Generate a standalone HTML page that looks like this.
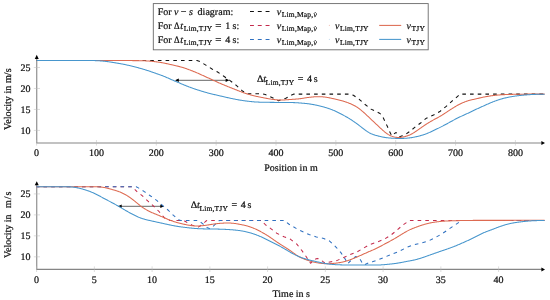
<!DOCTYPE html>
<html><head><meta charset="utf-8"><style>
html,body{margin:0;padding:0;background:#fff;width:550px;height:300px;overflow:hidden}
svg{display:block}
text{fill:#111;stroke:#111;stroke-width:0.22px;text-rendering:geometricPrecision}
</style></head><body>
<svg width="550" height="300" viewBox="0 0 550 300" font-family="'Liberation Serif', 'Times New Roman', serif" font-size="10">
<rect width="550" height="300" fill="#fff"/>
<line x1="36.75" y1="143.0" x2="36.75" y2="58" stroke="#858585" stroke-width="1.1"/>
<path d="M36.75,54.8 L34.75,58.9 L38.75,58.9 Z" fill="#000"/>
<line x1="36.2" y1="143.0" x2="542" y2="143.0" stroke="#858585" stroke-width="1.1"/>
<path d="M545.0,143.0 L541.4,141.0 L541.4,145.0 Z" fill="#000"/>
<line x1="33.8" y1="67.5" x2="40" y2="67.5" stroke="#bbb" stroke-width="0.5"/>
<text x="30.4" y="70.90" text-anchor="end">25</text>
<line x1="33.8" y1="88.47" x2="40" y2="88.47" stroke="#bbb" stroke-width="0.5"/>
<text x="30.4" y="91.87" text-anchor="end">20</text>
<line x1="33.8" y1="109.43" x2="40" y2="109.43" stroke="#bbb" stroke-width="0.5"/>
<text x="30.4" y="112.83" text-anchor="end">15</text>
<line x1="33.8" y1="130.4" x2="40" y2="130.4" stroke="#bbb" stroke-width="0.5"/>
<text x="30.4" y="133.80" text-anchor="end">10</text>
<line x1="36.60" y1="140.0" x2="36.60" y2="145.6" stroke="#bbb" stroke-width="0.5"/>
<text x="36.60" y="156.10" text-anchor="middle">0</text>
<line x1="96.45" y1="140.0" x2="96.45" y2="145.6" stroke="#bbb" stroke-width="0.5"/>
<text x="96.45" y="156.10" text-anchor="middle">100</text>
<line x1="156.30" y1="140.0" x2="156.30" y2="145.6" stroke="#bbb" stroke-width="0.5"/>
<text x="156.30" y="156.10" text-anchor="middle">200</text>
<line x1="216.15" y1="140.0" x2="216.15" y2="145.6" stroke="#bbb" stroke-width="0.5"/>
<text x="216.15" y="156.10" text-anchor="middle">300</text>
<line x1="276.00" y1="140.0" x2="276.00" y2="145.6" stroke="#bbb" stroke-width="0.5"/>
<text x="276.00" y="156.10" text-anchor="middle">400</text>
<line x1="335.85" y1="140.0" x2="335.85" y2="145.6" stroke="#bbb" stroke-width="0.5"/>
<text x="335.85" y="156.10" text-anchor="middle">500</text>
<line x1="395.70" y1="140.0" x2="395.70" y2="145.6" stroke="#bbb" stroke-width="0.5"/>
<text x="395.70" y="156.10" text-anchor="middle">600</text>
<line x1="455.55" y1="140.0" x2="455.55" y2="145.6" stroke="#bbb" stroke-width="0.5"/>
<text x="455.55" y="156.10" text-anchor="middle">700</text>
<line x1="515.40" y1="140.0" x2="515.40" y2="145.6" stroke="#bbb" stroke-width="0.5"/>
<text x="515.40" y="156.10" text-anchor="middle">800</text>
<line x1="177" y1="80.3" x2="227" y2="80.3" stroke="#555" stroke-width="0.9"/>
<path d="M175.0,80.3 L178.8,78.5 L178.8,82.1 Z" fill="#000"/>
<path d="M229.4,80.3 L225.6,78.5 L225.6,82.1 Z" fill="#000"/>
<path d="M36.60,60.50 L197.00,60.50 L200.00,61.50 L205.80,65.10 L212.40,69.20 L217.20,71.80 L223.80,76.20 L229.70,80.30 L236.30,85.40 L242.90,91.30 L246.00,93.20 L247.50,93.80 L262.00,93.80 L265.30,94.60 L271.90,97.50 L278.50,100.80 L285.80,98.30 L291.70,95.00 L294.00,94.10 L349.70,94.10 L353.40,95.30 L359.20,99.30 L365.10,104.50 L371.10,109.10 L377.00,112.00 L380.00,113.50 L383.00,117.30 L385.80,123.30 L387.30,126.20 L389.10,130.60 L390.60,133.60 L392.00,135.80 L393.50,134.20 L396.10,132.50 L397.90,134.30 L399.60,136.70 L402.30,135.80 L404.50,135.10 L408.20,132.50 L410.00,131.30 L414.70,127.40 L420.60,123.00 L426.40,118.20 L433.50,115.00 L440.30,111.20 L446.20,106.40 L452.00,101.20 L457.90,96.10 L459.60,94.60 L461.60,94.10 L545.00,94.10" fill="none" stroke="#111" stroke-width="1.05" stroke-dasharray="3.6 4.1" stroke-dashoffset="1.9" stroke-linejoin="round"/>
<path d="M36.60,60.50 L37.10,60.50 L37.60,60.50 L38.10,60.50 L38.60,60.50 L39.10,60.50 L39.60,60.50 L40.10,60.50 L40.60,60.50 L41.10,60.50 L41.60,60.51 L42.10,60.51 L42.60,60.51 L43.10,60.51 L43.60,60.51 L44.10,60.51 L44.60,60.51 L45.10,60.51 L45.60,60.51 L46.10,60.51 L46.60,60.51 L47.10,60.51 L47.60,60.51 L48.10,60.51 L48.60,60.51 L49.10,60.51 L49.60,60.51 L50.10,60.51 L50.60,60.51 L51.10,60.51 L51.60,60.52 L52.10,60.52 L52.60,60.52 L53.10,60.52 L53.60,60.52 L54.10,60.52 L54.60,60.52 L55.10,60.52 L55.60,60.52 L56.10,60.52 L56.60,60.52 L57.10,60.52 L57.60,60.52 L58.10,60.52 L58.60,60.52 L59.10,60.52 L59.60,60.52 L60.10,60.52 L60.60,60.52 L61.10,60.52 L61.60,60.53 L62.10,60.53 L62.60,60.53 L63.10,60.53 L63.60,60.53 L64.10,60.53 L64.60,60.53 L65.10,60.53 L65.60,60.53 L66.10,60.53 L66.60,60.53 L67.10,60.53 L67.60,60.53 L68.10,60.53 L68.60,60.53 L69.10,60.53 L69.60,60.53 L70.10,60.53 L70.60,60.53 L71.10,60.54 L71.60,60.54 L72.10,60.54 L72.60,60.54 L73.10,60.54 L73.60,60.54 L74.10,60.54 L74.60,60.54 L75.10,60.54 L75.60,60.54 L76.10,60.54 L76.60,60.54 L77.10,60.54 L77.60,60.54 L78.10,60.54 L78.60,60.54 L79.10,60.54 L79.60,60.54 L80.10,60.54 L80.60,60.54 L81.10,60.55 L81.60,60.55 L82.10,60.55 L82.60,60.55 L83.10,60.55 L83.60,60.55 L84.10,60.55 L84.60,60.55 L85.10,60.55 L85.60,60.55 L86.10,60.55 L86.60,60.55 L87.10,60.55 L87.60,60.55 L88.10,60.55 L88.60,60.55 L89.10,60.55 L89.60,60.55 L90.10,60.55 L90.60,60.55 L91.10,60.56 L91.60,60.56 L92.10,60.56 L92.60,60.56 L93.10,60.56 L93.60,60.56 L94.10,60.56 L94.60,60.56 L95.10,60.56 L95.60,60.56 L96.10,60.56 L96.60,60.56 L97.10,60.56 L97.60,60.56 L98.10,60.56 L98.60,60.56 L99.10,60.56 L99.60,60.56 L100.10,60.56 L100.60,60.57 L101.10,60.57 L101.60,60.57 L102.10,60.57 L102.60,60.57 L103.10,60.57 L103.60,60.57 L104.10,60.57 L104.60,60.57 L105.10,60.57 L105.60,60.57 L106.10,60.57 L106.60,60.57 L107.10,60.57 L107.60,60.57 L108.10,60.57 L108.60,60.57 L109.10,60.57 L109.60,60.57 L110.10,60.57 L110.60,60.58 L111.10,60.58 L111.60,60.58 L112.10,60.58 L112.60,60.58 L113.10,60.58 L113.60,60.58 L114.10,60.58 L114.60,60.58 L115.10,60.58 L115.60,60.58 L116.10,60.58 L116.60,60.58 L117.10,60.58 L117.60,60.58 L118.10,60.58 L118.60,60.58 L119.10,60.58 L119.60,60.58 L120.10,60.58 L120.60,60.59 L121.10,60.59 L121.60,60.59 L122.10,60.59 L122.60,60.59 L123.10,60.59 L123.60,60.59 L124.10,60.59 L124.60,60.59 L125.10,60.59 L125.60,60.59 L126.10,60.59 L126.60,60.59 L127.10,60.59 L127.60,60.59 L128.10,60.59 L128.60,60.59 L129.10,60.59 L129.60,60.59 L130.10,60.59 L130.60,60.59 L131.10,60.59 L131.60,60.59 L132.10,60.60 L132.60,60.60 L133.10,60.60 L133.60,60.60 L134.10,60.60 L134.60,60.60 L135.10,60.61 L135.60,60.61 L136.10,60.61 L136.60,60.62 L137.10,60.62 L137.60,60.63 L138.10,60.63 L138.60,60.64 L139.10,60.65 L139.60,60.66 L140.10,60.67 L140.60,60.68 L141.10,60.69 L141.60,60.70 L142.10,60.72 L142.60,60.74 L143.10,60.75 L143.60,60.77 L144.10,60.79 L144.60,60.82 L145.10,60.84 L145.60,60.87 L146.10,60.89 L146.60,60.92 L147.10,60.95 L147.60,60.98 L148.10,61.01 L148.60,61.05 L149.10,61.09 L149.60,61.13 L150.10,61.17 L150.60,61.21 L151.10,61.26 L151.60,61.30 L152.10,61.35 L152.60,61.40 L153.10,61.46 L153.60,61.51 L154.10,61.57 L154.60,61.63 L155.10,61.69 L155.60,61.75 L156.10,61.81 L156.60,61.87 L157.10,61.94 L157.60,62.01 L158.10,62.08 L158.60,62.16 L159.10,62.23 L159.60,62.31 L160.10,62.39 L160.60,62.47 L161.10,62.55 L161.60,62.64 L162.10,62.72 L162.60,62.81 L163.10,62.90 L163.60,63.00 L164.10,63.10 L164.60,63.19 L165.10,63.30 L165.60,63.40 L166.10,63.51 L166.60,63.62 L167.10,63.73 L167.60,63.84 L168.10,63.95 L168.60,64.06 L169.10,64.18 L169.60,64.29 L170.10,64.40 L170.60,64.52 L171.10,64.63 L171.60,64.75 L172.10,64.86 L172.60,64.97 L173.10,65.08 L173.60,65.20 L174.10,65.31 L174.60,65.42 L175.10,65.54 L175.60,65.65 L176.10,65.77 L176.60,65.89 L177.10,66.01 L177.60,66.13 L178.10,66.25 L178.60,66.37 L179.10,66.50 L179.60,66.63 L180.10,66.76 L180.60,66.89 L181.10,67.03 L181.60,67.17 L182.10,67.32 L182.60,67.47 L183.10,67.62 L183.60,67.78 L184.10,67.94 L184.60,68.10 L185.10,68.27 L185.60,68.44 L186.10,68.61 L186.60,68.79 L187.10,68.97 L187.60,69.14 L188.10,69.33 L188.60,69.51 L189.10,69.69 L189.60,69.88 L190.10,70.07 L190.60,70.26 L191.10,70.45 L191.60,70.64 L192.10,70.84 L192.60,71.04 L193.10,71.23 L193.60,71.44 L194.10,71.64 L194.60,71.84 L195.10,72.05 L195.60,72.25 L196.10,72.46 L196.60,72.68 L197.10,72.89 L197.60,73.11 L198.10,73.33 L198.60,73.55 L199.10,73.77 L199.60,73.99 L200.10,74.22 L200.60,74.45 L201.10,74.67 L201.60,74.90 L202.10,75.13 L202.60,75.36 L203.10,75.59 L203.60,75.82 L204.10,76.05 L204.60,76.28 L205.10,76.50 L205.60,76.73 L206.10,76.96 L206.60,77.19 L207.10,77.42 L207.60,77.65 L208.10,77.87 L208.60,78.10 L209.10,78.33 L209.60,78.56 L210.10,78.79 L210.60,79.02 L211.10,79.26 L211.60,79.49 L212.10,79.72 L212.60,79.95 L213.10,80.18 L213.60,80.42 L214.10,80.65 L214.60,80.88 L215.10,81.11 L215.60,81.34 L216.10,81.57 L216.60,81.79 L217.10,82.02 L217.60,82.24 L218.10,82.46 L218.60,82.68 L219.10,82.90 L219.60,83.12 L220.10,83.34 L220.60,83.55 L221.10,83.77 L221.60,83.98 L222.10,84.19 L222.60,84.40 L223.10,84.61 L223.60,84.82 L224.10,85.03 L224.60,85.23 L225.10,85.44 L225.60,85.64 L226.10,85.85 L226.60,86.05 L227.10,86.25 L227.60,86.45 L228.10,86.65 L228.60,86.86 L229.10,87.06 L229.60,87.26 L230.10,87.46 L230.60,87.66 L231.10,87.86 L231.60,88.06 L232.10,88.26 L232.60,88.46 L233.10,88.65 L233.60,88.85 L234.10,89.05 L234.60,89.25 L235.10,89.45 L235.60,89.65 L236.10,89.85 L236.60,90.05 L237.10,90.25 L237.60,90.45 L238.10,90.65 L238.60,90.84 L239.10,91.04 L239.60,91.24 L240.10,91.43 L240.60,91.63 L241.10,91.82 L241.60,92.01 L242.10,92.19 L242.60,92.38 L243.10,92.56 L243.60,92.74 L244.10,92.91 L244.60,93.08 L245.10,93.25 L245.60,93.41 L246.10,93.57 L246.60,93.72 L247.10,93.88 L247.60,94.03 L248.10,94.17 L248.60,94.32 L249.10,94.46 L249.60,94.61 L250.10,94.75 L250.60,94.89 L251.10,95.02 L251.60,95.16 L252.10,95.29 L252.60,95.43 L253.10,95.56 L253.60,95.68 L254.10,95.81 L254.60,95.93 L255.10,96.05 L255.60,96.16 L256.10,96.28 L256.60,96.39 L257.10,96.49 L257.60,96.60 L258.10,96.70 L258.60,96.80 L259.10,96.90 L259.60,97.00 L260.10,97.10 L260.60,97.20 L261.10,97.29 L261.60,97.39 L262.10,97.49 L262.60,97.59 L263.10,97.69 L263.60,97.79 L264.10,97.89 L264.60,97.98 L265.10,98.08 L265.60,98.18 L266.10,98.28 L266.60,98.38 L267.10,98.48 L267.60,98.57 L268.10,98.66 L268.60,98.75 L269.10,98.84 L269.60,98.93 L270.10,99.01 L270.60,99.09 L271.10,99.17 L271.60,99.24 L272.10,99.31 L272.60,99.38 L273.10,99.45 L273.60,99.51 L274.10,99.57 L274.60,99.63 L275.10,99.69 L275.60,99.74 L276.10,99.79 L276.60,99.84 L277.10,99.88 L277.60,99.91 L278.10,99.94 L278.60,99.97 L279.10,99.99 L279.60,100.01 L280.10,100.02 L280.60,100.02 L281.10,100.02 L281.60,100.02 L282.10,100.01 L282.60,99.99 L283.10,99.97 L283.60,99.95 L284.10,99.93 L284.60,99.90 L285.10,99.87 L285.60,99.84 L286.10,99.80 L286.60,99.77 L287.10,99.74 L287.60,99.70 L288.10,99.66 L288.60,99.63 L289.10,99.59 L289.60,99.56 L290.10,99.52 L290.60,99.49 L291.10,99.45 L291.60,99.42 L292.10,99.38 L292.60,99.35 L293.10,99.31 L293.60,99.28 L294.10,99.24 L294.60,99.21 L295.10,99.17 L295.60,99.13 L296.10,99.09 L296.60,99.05 L297.10,99.01 L297.60,98.97 L298.10,98.92 L298.60,98.87 L299.10,98.81 L299.60,98.75 L300.10,98.69 L300.60,98.62 L301.10,98.55 L301.60,98.48 L302.10,98.40 L302.60,98.32 L303.10,98.24 L303.60,98.16 L304.10,98.08 L304.60,98.00 L305.10,97.91 L305.60,97.83 L306.10,97.76 L306.60,97.68 L307.10,97.60 L307.60,97.53 L308.10,97.47 L308.60,97.40 L309.10,97.34 L309.60,97.28 L310.10,97.22 L310.60,97.17 L311.10,97.11 L311.60,97.06 L312.10,97.02 L312.60,96.97 L313.10,96.93 L313.60,96.89 L314.10,96.85 L314.60,96.81 L315.10,96.78 L315.60,96.75 L316.10,96.73 L316.60,96.71 L317.10,96.69 L317.60,96.68 L318.10,96.67 L318.60,96.67 L319.10,96.67 L319.60,96.68 L320.10,96.69 L320.60,96.71 L321.10,96.74 L321.60,96.77 L322.10,96.80 L322.60,96.84 L323.10,96.88 L323.60,96.93 L324.10,96.98 L324.60,97.04 L325.10,97.10 L325.60,97.17 L326.10,97.24 L326.60,97.32 L327.10,97.41 L327.60,97.49 L328.10,97.58 L328.60,97.68 L329.10,97.78 L329.60,97.88 L330.10,97.98 L330.60,98.08 L331.10,98.19 L331.60,98.30 L332.10,98.41 L332.60,98.51 L333.10,98.63 L333.60,98.74 L334.10,98.85 L334.60,98.96 L335.10,99.08 L335.60,99.19 L336.10,99.31 L336.60,99.43 L337.10,99.54 L337.60,99.66 L338.10,99.78 L338.60,99.90 L339.10,100.03 L339.60,100.15 L340.10,100.28 L340.60,100.41 L341.10,100.54 L341.60,100.68 L342.10,100.82 L342.60,100.97 L343.10,101.12 L343.60,101.27 L344.10,101.43 L344.60,101.59 L345.10,101.76 L345.60,101.92 L346.10,102.10 L346.60,102.27 L347.10,102.45 L347.60,102.63 L348.10,102.82 L348.60,103.01 L349.10,103.21 L349.60,103.41 L350.10,103.61 L350.60,103.82 L351.10,104.04 L351.60,104.26 L352.10,104.49 L352.60,104.73 L353.10,104.97 L353.60,105.22 L354.10,105.47 L354.60,105.74 L355.10,106.01 L355.60,106.30 L356.10,106.60 L356.60,106.90 L357.10,107.23 L357.60,107.56 L358.10,107.91 L358.60,108.27 L359.10,108.64 L359.60,109.02 L360.10,109.40 L360.60,109.80 L361.10,110.20 L361.60,110.61 L362.10,111.03 L362.60,111.45 L363.10,111.88 L363.60,112.32 L364.10,112.76 L364.60,113.21 L365.10,113.67 L365.60,114.13 L366.10,114.59 L366.60,115.06 L367.10,115.54 L367.60,116.01 L368.10,116.49 L368.60,116.97 L369.10,117.45 L369.60,117.93 L370.10,118.41 L370.60,118.88 L371.10,119.36 L371.60,119.83 L372.10,120.30 L372.60,120.77 L373.10,121.24 L373.60,121.71 L374.10,122.18 L374.60,122.64 L375.10,123.11 L375.60,123.57 L376.10,124.04 L376.60,124.51 L377.10,124.97 L377.60,125.44 L378.10,125.91 L378.60,126.38 L379.10,126.85 L379.60,127.32 L380.10,127.79 L380.60,128.26 L381.10,128.73 L381.60,129.19 L382.10,129.65 L382.60,130.10 L383.10,130.54 L383.60,130.98 L384.10,131.41 L384.60,131.82 L385.10,132.23 L385.60,132.62 L386.10,133.00 L386.60,133.36 L387.10,133.71 L387.60,134.04 L388.10,134.36 L388.60,134.66 L389.10,134.94 L389.60,135.21 L390.10,135.46 L390.60,135.69 L391.10,135.91 L391.60,136.12 L392.10,136.31 L392.60,136.48 L393.10,136.64 L393.60,136.79 L394.10,136.92 L394.60,137.04 L395.10,137.14 L395.60,137.23 L396.10,137.31 L396.60,137.37 L397.10,137.42 L397.60,137.46 L398.10,137.48 L398.60,137.49 L399.10,137.48 L399.60,137.46 L400.10,137.43 L400.60,137.38 L401.10,137.33 L401.60,137.26 L402.10,137.18 L402.60,137.09 L403.10,136.99 L403.60,136.88 L404.10,136.77 L404.60,136.64 L405.10,136.51 L405.60,136.37 L406.10,136.22 L406.60,136.07 L407.10,135.91 L407.60,135.73 L408.10,135.55 L408.60,135.36 L409.10,135.16 L409.60,134.95 L410.10,134.72 L410.60,134.49 L411.10,134.24 L411.60,133.98 L412.10,133.71 L412.60,133.43 L413.10,133.13 L413.60,132.83 L414.10,132.52 L414.60,132.20 L415.10,131.87 L415.60,131.54 L416.10,131.20 L416.60,130.86 L417.10,130.52 L417.60,130.17 L418.10,129.82 L418.60,129.47 L419.10,129.12 L419.60,128.77 L420.10,128.42 L420.60,128.06 L421.10,127.71 L421.60,127.36 L422.10,127.01 L422.60,126.66 L423.10,126.32 L423.60,125.98 L424.10,125.63 L424.60,125.30 L425.10,124.96 L425.60,124.63 L426.10,124.31 L426.60,123.98 L427.10,123.67 L427.60,123.35 L428.10,123.04 L428.60,122.73 L429.10,122.43 L429.60,122.13 L430.10,121.83 L430.60,121.54 L431.10,121.25 L431.60,120.96 L432.10,120.68 L432.60,120.40 L433.10,120.13 L433.60,119.85 L434.10,119.58 L434.60,119.31 L435.10,119.05 L435.60,118.78 L436.10,118.52 L436.60,118.25 L437.10,117.98 L437.60,117.71 L438.10,117.44 L438.60,117.16 L439.10,116.88 L439.60,116.60 L440.10,116.31 L440.60,116.01 L441.10,115.71 L441.60,115.40 L442.10,115.09 L442.60,114.78 L443.10,114.46 L443.60,114.14 L444.10,113.81 L444.60,113.48 L445.10,113.15 L445.60,112.82 L446.10,112.49 L446.60,112.16 L447.10,111.83 L447.60,111.50 L448.10,111.17 L448.60,110.84 L449.10,110.51 L449.60,110.18 L450.10,109.85 L450.60,109.53 L451.10,109.21 L451.60,108.89 L452.10,108.57 L452.60,108.25 L453.10,107.94 L453.60,107.63 L454.10,107.33 L454.60,107.02 L455.10,106.72 L455.60,106.43 L456.10,106.13 L456.60,105.84 L457.10,105.56 L457.60,105.28 L458.10,105.01 L458.60,104.74 L459.10,104.48 L459.60,104.23 L460.10,103.98 L460.60,103.74 L461.10,103.51 L461.60,103.28 L462.10,103.06 L462.60,102.84 L463.10,102.63 L463.60,102.42 L464.10,102.21 L464.60,102.02 L465.10,101.82 L465.60,101.63 L466.10,101.45 L466.60,101.27 L467.10,101.10 L467.60,100.93 L468.10,100.77 L468.60,100.62 L469.10,100.47 L469.60,100.34 L470.10,100.20 L470.60,100.08 L471.10,99.95 L471.60,99.84 L472.10,99.72 L472.60,99.61 L473.10,99.50 L473.60,99.40 L474.10,99.29 L474.60,99.18 L475.10,99.07 L475.60,98.96 L476.10,98.84 L476.60,98.73 L477.10,98.61 L477.60,98.49 L478.10,98.37 L478.60,98.25 L479.10,98.13 L479.60,98.00 L480.10,97.88 L480.60,97.76 L481.10,97.65 L481.60,97.53 L482.10,97.42 L482.60,97.31 L483.10,97.20 L483.60,97.10 L484.10,97.00 L484.60,96.90 L485.10,96.80 L485.60,96.71 L486.10,96.62 L486.60,96.53 L487.10,96.44 L487.60,96.36 L488.10,96.27 L488.60,96.19 L489.10,96.12 L489.60,96.04 L490.10,95.97 L490.60,95.89 L491.10,95.83 L491.60,95.76 L492.10,95.69 L492.60,95.63 L493.10,95.56 L493.60,95.50 L494.10,95.44 L494.60,95.39 L495.10,95.33 L495.60,95.28 L496.10,95.22 L496.60,95.17 L497.10,95.13 L497.60,95.08 L498.10,95.04 L498.60,94.99 L499.10,94.95 L499.60,94.92 L500.10,94.88 L500.60,94.84 L501.10,94.81 L501.60,94.78 L502.10,94.75 L502.60,94.72 L503.10,94.69 L503.60,94.66 L504.10,94.64 L504.60,94.62 L505.10,94.59 L505.60,94.57 L506.10,94.55 L506.60,94.54 L507.10,94.52 L507.60,94.50 L508.10,94.49 L508.60,94.47 L509.10,94.46 L509.60,94.44 L510.10,94.43 L510.60,94.42 L511.10,94.40 L511.60,94.39 L512.10,94.38 L512.60,94.37 L513.10,94.35 L513.60,94.34 L514.10,94.33 L514.60,94.32 L515.10,94.31 L515.60,94.30 L516.10,94.29 L516.60,94.28 L517.10,94.27 L517.60,94.27 L518.10,94.26 L518.60,94.25 L519.10,94.24 L519.60,94.24 L520.10,94.23 L520.60,94.22 L521.10,94.22 L521.60,94.21 L522.10,94.20 L522.60,94.20 L523.10,94.19 L523.60,94.18 L524.10,94.18 L524.60,94.17 L525.10,94.16 L525.60,94.16 L526.10,94.15 L526.60,94.14 L527.10,94.14 L527.60,94.13 L528.10,94.13 L528.60,94.12 L529.10,94.12 L529.60,94.11 L530.10,94.11 L530.60,94.11 L531.10,94.11 L531.60,94.10 L532.10,94.10 L532.60,94.10 L533.10,94.10 L533.60,94.10 L534.10,94.10 L534.60,94.10 L535.10,94.10 L535.60,94.10 L536.10,94.10 L536.60,94.10 L537.10,94.10 L537.60,94.10 L538.10,94.10 L538.60,94.10 L539.10,94.10 L539.60,94.10 L540.10,94.10 L540.60,94.10 L541.10,94.10 L541.60,94.10 L542.10,94.10 L542.60,94.10 L543.10,94.10 L543.60,94.10 L544.10,94.10 L544.60,94.10" fill="none" stroke="#dd6a51" stroke-width="1.05" stroke-linejoin="round"/>
<path d="M36.60,60.50 L37.10,60.50 L37.60,60.50 L38.10,60.50 L38.60,60.50 L39.10,60.50 L39.60,60.50 L40.10,60.50 L40.60,60.50 L41.10,60.50 L41.60,60.50 L42.10,60.50 L42.60,60.50 L43.10,60.50 L43.60,60.50 L44.10,60.50 L44.60,60.50 L45.10,60.50 L45.60,60.50 L46.10,60.50 L46.60,60.50 L47.10,60.50 L47.60,60.50 L48.10,60.50 L48.60,60.50 L49.10,60.50 L49.60,60.50 L50.10,60.50 L50.60,60.50 L51.10,60.50 L51.60,60.50 L52.10,60.50 L52.60,60.50 L53.10,60.50 L53.60,60.50 L54.10,60.50 L54.60,60.50 L55.10,60.50 L55.60,60.50 L56.10,60.50 L56.60,60.50 L57.10,60.50 L57.60,60.50 L58.10,60.50 L58.60,60.50 L59.10,60.50 L59.60,60.50 L60.10,60.50 L60.60,60.50 L61.10,60.50 L61.60,60.50 L62.10,60.50 L62.60,60.50 L63.10,60.50 L63.60,60.50 L64.10,60.50 L64.60,60.50 L65.10,60.50 L65.60,60.50 L66.10,60.50 L66.60,60.50 L67.10,60.50 L67.60,60.50 L68.10,60.50 L68.60,60.50 L69.10,60.50 L69.60,60.50 L70.10,60.50 L70.60,60.50 L71.10,60.50 L71.60,60.50 L72.10,60.50 L72.60,60.50 L73.10,60.50 L73.60,60.50 L74.10,60.50 L74.60,60.50 L75.10,60.50 L75.60,60.50 L76.10,60.50 L76.60,60.50 L77.10,60.50 L77.60,60.50 L78.10,60.50 L78.60,60.50 L79.10,60.50 L79.60,60.50 L80.10,60.50 L80.60,60.50 L81.10,60.50 L81.60,60.50 L82.10,60.50 L82.60,60.50 L83.10,60.50 L83.60,60.50 L84.10,60.50 L84.60,60.50 L85.10,60.49 L85.60,60.49 L86.10,60.49 L86.60,60.49 L87.10,60.49 L87.60,60.49 L88.10,60.49 L88.60,60.49 L89.10,60.50 L89.60,60.50 L90.10,60.50 L90.60,60.51 L91.10,60.51 L91.60,60.52 L92.10,60.53 L92.60,60.54 L93.10,60.55 L93.60,60.56 L94.10,60.58 L94.60,60.59 L95.10,60.61 L95.60,60.63 L96.10,60.65 L96.60,60.68 L97.10,60.70 L97.60,60.73 L98.10,60.75 L98.60,60.78 L99.10,60.81 L99.60,60.84 L100.10,60.88 L100.60,60.91 L101.10,60.95 L101.60,60.99 L102.10,61.03 L102.60,61.07 L103.10,61.12 L103.60,61.17 L104.10,61.22 L104.60,61.27 L105.10,61.33 L105.60,61.39 L106.10,61.45 L106.60,61.51 L107.10,61.57 L107.60,61.64 L108.10,61.70 L108.60,61.77 L109.10,61.84 L109.60,61.91 L110.10,61.98 L110.60,62.06 L111.10,62.13 L111.60,62.21 L112.10,62.29 L112.60,62.37 L113.10,62.45 L113.60,62.53 L114.10,62.61 L114.60,62.70 L115.10,62.78 L115.60,62.86 L116.10,62.95 L116.60,63.03 L117.10,63.11 L117.60,63.20 L118.10,63.29 L118.60,63.37 L119.10,63.46 L119.60,63.55 L120.10,63.63 L120.60,63.72 L121.10,63.81 L121.60,63.90 L122.10,64.00 L122.60,64.09 L123.10,64.19 L123.60,64.28 L124.10,64.38 L124.60,64.49 L125.10,64.59 L125.60,64.69 L126.10,64.80 L126.60,64.91 L127.10,65.02 L127.60,65.14 L128.10,65.25 L128.60,65.36 L129.10,65.48 L129.60,65.60 L130.10,65.71 L130.60,65.83 L131.10,65.95 L131.60,66.07 L132.10,66.19 L132.60,66.32 L133.10,66.44 L133.60,66.56 L134.10,66.69 L134.60,66.82 L135.10,66.94 L135.60,67.07 L136.10,67.21 L136.60,67.34 L137.10,67.47 L137.60,67.60 L138.10,67.74 L138.60,67.88 L139.10,68.01 L139.60,68.15 L140.10,68.29 L140.60,68.43 L141.10,68.57 L141.60,68.72 L142.10,68.86 L142.60,69.01 L143.10,69.16 L143.60,69.31 L144.10,69.46 L144.60,69.61 L145.10,69.76 L145.60,69.92 L146.10,70.07 L146.60,70.23 L147.10,70.39 L147.60,70.55 L148.10,70.71 L148.60,70.87 L149.10,71.03 L149.60,71.20 L150.10,71.37 L150.60,71.54 L151.10,71.71 L151.60,71.88 L152.10,72.05 L152.60,72.23 L153.10,72.40 L153.60,72.58 L154.10,72.75 L154.60,72.93 L155.10,73.11 L155.60,73.28 L156.10,73.46 L156.60,73.64 L157.10,73.81 L157.60,73.99 L158.10,74.16 L158.60,74.34 L159.10,74.52 L159.60,74.69 L160.10,74.87 L160.60,75.05 L161.10,75.23 L161.60,75.42 L162.10,75.60 L162.60,75.79 L163.10,75.99 L163.60,76.18 L164.10,76.38 L164.60,76.59 L165.10,76.79 L165.60,77.00 L166.10,77.22 L166.60,77.44 L167.10,77.66 L167.60,77.88 L168.10,78.10 L168.60,78.33 L169.10,78.55 L169.60,78.77 L170.10,78.99 L170.60,79.22 L171.10,79.44 L171.60,79.65 L172.10,79.87 L172.60,80.09 L173.10,80.30 L173.60,80.52 L174.10,80.73 L174.60,80.94 L175.10,81.16 L175.60,81.37 L176.10,81.58 L176.60,81.79 L177.10,82.00 L177.60,82.21 L178.10,82.43 L178.60,82.64 L179.10,82.85 L179.60,83.06 L180.10,83.27 L180.60,83.48 L181.10,83.69 L181.60,83.90 L182.10,84.11 L182.60,84.32 L183.10,84.52 L183.60,84.73 L184.10,84.94 L184.60,85.14 L185.10,85.35 L185.60,85.55 L186.10,85.75 L186.60,85.95 L187.10,86.15 L187.60,86.35 L188.10,86.54 L188.60,86.74 L189.10,86.93 L189.60,87.12 L190.10,87.30 L190.60,87.49 L191.10,87.67 L191.60,87.85 L192.10,88.03 L192.60,88.20 L193.10,88.38 L193.60,88.55 L194.10,88.72 L194.60,88.89 L195.10,89.06 L195.60,89.22 L196.10,89.39 L196.60,89.56 L197.10,89.72 L197.60,89.88 L198.10,90.04 L198.60,90.20 L199.10,90.36 L199.60,90.52 L200.10,90.67 L200.60,90.83 L201.10,90.99 L201.60,91.14 L202.10,91.29 L202.60,91.44 L203.10,91.59 L203.60,91.74 L204.10,91.89 L204.60,92.04 L205.10,92.18 L205.60,92.33 L206.10,92.47 L206.60,92.61 L207.10,92.75 L207.60,92.89 L208.10,93.02 L208.60,93.16 L209.10,93.29 L209.60,93.42 L210.10,93.55 L210.60,93.68 L211.10,93.80 L211.60,93.93 L212.10,94.05 L212.60,94.17 L213.10,94.29 L213.60,94.40 L214.10,94.52 L214.60,94.63 L215.10,94.75 L215.60,94.86 L216.10,94.97 L216.60,95.09 L217.10,95.20 L217.60,95.32 L218.10,95.43 L218.60,95.55 L219.10,95.66 L219.60,95.78 L220.10,95.89 L220.60,96.01 L221.10,96.12 L221.60,96.24 L222.10,96.35 L222.60,96.47 L223.10,96.58 L223.60,96.70 L224.10,96.82 L224.60,96.93 L225.10,97.05 L225.60,97.16 L226.10,97.28 L226.60,97.39 L227.10,97.50 L227.60,97.62 L228.10,97.73 L228.60,97.84 L229.10,97.95 L229.60,98.06 L230.10,98.17 L230.60,98.28 L231.10,98.39 L231.60,98.49 L232.10,98.60 L232.60,98.70 L233.10,98.81 L233.60,98.91 L234.10,99.01 L234.60,99.11 L235.10,99.21 L235.60,99.31 L236.10,99.40 L236.60,99.50 L237.10,99.59 L237.60,99.68 L238.10,99.77 L238.60,99.86 L239.10,99.95 L239.60,100.03 L240.10,100.11 L240.60,100.20 L241.10,100.28 L241.60,100.35 L242.10,100.43 L242.60,100.51 L243.10,100.58 L243.60,100.65 L244.10,100.73 L244.60,100.79 L245.10,100.86 L245.60,100.93 L246.10,100.99 L246.60,101.06 L247.10,101.12 L247.60,101.18 L248.10,101.24 L248.60,101.30 L249.10,101.35 L249.60,101.41 L250.10,101.47 L250.60,101.52 L251.10,101.58 L251.60,101.63 L252.10,101.68 L252.60,101.73 L253.10,101.78 L253.60,101.82 L254.10,101.86 L254.60,101.90 L255.10,101.94 L255.60,101.97 L256.10,102.00 L256.60,102.03 L257.10,102.06 L257.60,102.08 L258.10,102.10 L258.60,102.12 L259.10,102.14 L259.60,102.15 L260.10,102.17 L260.60,102.18 L261.10,102.20 L261.60,102.21 L262.10,102.22 L262.60,102.24 L263.10,102.25 L263.60,102.26 L264.10,102.27 L264.60,102.28 L265.10,102.29 L265.60,102.30 L266.10,102.31 L266.60,102.31 L267.10,102.32 L267.60,102.33 L268.10,102.33 L268.60,102.34 L269.10,102.34 L269.60,102.35 L270.10,102.35 L270.60,102.36 L271.10,102.36 L271.60,102.37 L272.10,102.37 L272.60,102.38 L273.10,102.38 L273.60,102.39 L274.10,102.39 L274.60,102.40 L275.10,102.40 L275.60,102.41 L276.10,102.41 L276.60,102.42 L277.10,102.42 L277.60,102.43 L278.10,102.43 L278.60,102.44 L279.10,102.44 L279.60,102.45 L280.10,102.45 L280.60,102.46 L281.10,102.46 L281.60,102.47 L282.10,102.47 L282.60,102.48 L283.10,102.48 L283.60,102.48 L284.10,102.49 L284.60,102.49 L285.10,102.50 L285.60,102.50 L286.10,102.51 L286.60,102.51 L287.10,102.51 L287.60,102.52 L288.10,102.52 L288.60,102.53 L289.10,102.53 L289.60,102.53 L290.10,102.54 L290.60,102.55 L291.10,102.55 L291.60,102.56 L292.10,102.57 L292.60,102.58 L293.10,102.59 L293.60,102.61 L294.10,102.62 L294.60,102.64 L295.10,102.66 L295.60,102.69 L296.10,102.71 L296.60,102.74 L297.10,102.77 L297.60,102.80 L298.10,102.84 L298.60,102.87 L299.10,102.91 L299.60,102.95 L300.10,102.99 L300.60,103.03 L301.10,103.07 L301.60,103.11 L302.10,103.15 L302.60,103.19 L303.10,103.23 L303.60,103.28 L304.10,103.32 L304.60,103.37 L305.10,103.42 L305.60,103.47 L306.10,103.52 L306.60,103.58 L307.10,103.63 L307.60,103.69 L308.10,103.76 L308.60,103.82 L309.10,103.89 L309.60,103.97 L310.10,104.04 L310.60,104.12 L311.10,104.20 L311.60,104.28 L312.10,104.36 L312.60,104.45 L313.10,104.54 L313.60,104.63 L314.10,104.72 L314.60,104.82 L315.10,104.92 L315.60,105.02 L316.10,105.13 L316.60,105.24 L317.10,105.35 L317.60,105.46 L318.10,105.57 L318.60,105.69 L319.10,105.81 L319.60,105.93 L320.10,106.05 L320.60,106.17 L321.10,106.30 L321.60,106.43 L322.10,106.56 L322.60,106.69 L323.10,106.83 L323.60,106.97 L324.10,107.11 L324.60,107.25 L325.10,107.39 L325.60,107.54 L326.10,107.69 L326.60,107.84 L327.10,108.00 L327.60,108.16 L328.10,108.32 L328.60,108.48 L329.10,108.65 L329.60,108.82 L330.10,109.00 L330.60,109.18 L331.10,109.37 L331.60,109.56 L332.10,109.76 L332.60,109.96 L333.10,110.17 L333.60,110.38 L334.10,110.59 L334.60,110.81 L335.10,111.04 L335.60,111.27 L336.10,111.51 L336.60,111.75 L337.10,111.99 L337.60,112.24 L338.10,112.49 L338.60,112.74 L339.10,113.00 L339.60,113.25 L340.10,113.51 L340.60,113.77 L341.10,114.03 L341.60,114.29 L342.10,114.55 L342.60,114.82 L343.10,115.08 L343.60,115.35 L344.10,115.61 L344.60,115.88 L345.10,116.15 L345.60,116.43 L346.10,116.71 L346.60,116.99 L347.10,117.28 L347.60,117.57 L348.10,117.86 L348.60,118.17 L349.10,118.47 L349.60,118.78 L350.10,119.09 L350.60,119.41 L351.10,119.73 L351.60,120.06 L352.10,120.39 L352.60,120.72 L353.10,121.06 L353.60,121.40 L354.10,121.75 L354.60,122.10 L355.10,122.45 L355.60,122.81 L356.10,123.17 L356.60,123.54 L357.10,123.91 L357.60,124.28 L358.10,124.66 L358.60,125.04 L359.10,125.42 L359.60,125.80 L360.10,126.19 L360.60,126.57 L361.10,126.96 L361.60,127.35 L362.10,127.73 L362.60,128.12 L363.10,128.50 L363.60,128.89 L364.10,129.27 L364.60,129.65 L365.10,130.02 L365.60,130.38 L366.10,130.74 L366.60,131.09 L367.10,131.43 L367.60,131.75 L368.10,132.07 L368.60,132.37 L369.10,132.66 L369.60,132.93 L370.10,133.19 L370.60,133.44 L371.10,133.67 L371.60,133.89 L372.10,134.09 L372.60,134.29 L373.10,134.47 L373.60,134.65 L374.10,134.82 L374.60,134.98 L375.10,135.14 L375.60,135.30 L376.10,135.44 L376.60,135.59 L377.10,135.73 L377.60,135.86 L378.10,135.99 L378.60,136.12 L379.10,136.24 L379.60,136.36 L380.10,136.48 L380.60,136.60 L381.10,136.71 L381.60,136.82 L382.10,136.92 L382.60,137.03 L383.10,137.12 L383.60,137.22 L384.10,137.31 L384.60,137.39 L385.10,137.47 L385.60,137.54 L386.10,137.61 L386.60,137.68 L387.10,137.74 L387.60,137.80 L388.10,137.85 L388.60,137.90 L389.10,137.95 L389.60,137.99 L390.10,138.04 L390.60,138.08 L391.10,138.12 L391.60,138.15 L392.10,138.19 L392.60,138.22 L393.10,138.25 L393.60,138.27 L394.10,138.30 L394.60,138.32 L395.10,138.35 L395.60,138.37 L396.10,138.39 L396.60,138.40 L397.10,138.42 L397.60,138.43 L398.10,138.44 L398.60,138.45 L399.10,138.45 L399.60,138.45 L400.10,138.45 L400.60,138.45 L401.10,138.44 L401.60,138.43 L402.10,138.42 L402.60,138.40 L403.10,138.39 L403.60,138.37 L404.10,138.34 L404.60,138.32 L405.10,138.29 L405.60,138.26 L406.10,138.22 L406.60,138.19 L407.10,138.15 L407.60,138.10 L408.10,138.05 L408.60,138.00 L409.10,137.95 L409.60,137.89 L410.10,137.83 L410.60,137.76 L411.10,137.68 L411.60,137.61 L412.10,137.53 L412.60,137.44 L413.10,137.35 L413.60,137.26 L414.10,137.16 L414.60,137.06 L415.10,136.96 L415.60,136.85 L416.10,136.74 L416.60,136.63 L417.10,136.51 L417.60,136.40 L418.10,136.27 L418.60,136.15 L419.10,136.02 L419.60,135.89 L420.10,135.76 L420.60,135.62 L421.10,135.48 L421.60,135.34 L422.10,135.19 L422.60,135.04 L423.10,134.89 L423.60,134.73 L424.10,134.57 L424.60,134.40 L425.10,134.23 L425.60,134.05 L426.10,133.87 L426.60,133.68 L427.10,133.48 L427.60,133.27 L428.10,133.06 L428.60,132.85 L429.10,132.62 L429.60,132.39 L430.10,132.16 L430.60,131.93 L431.10,131.69 L431.60,131.45 L432.10,131.21 L432.60,130.97 L433.10,130.73 L433.60,130.49 L434.10,130.25 L434.60,130.01 L435.10,129.78 L435.60,129.54 L436.10,129.31 L436.60,129.07 L437.10,128.83 L437.60,128.60 L438.10,128.36 L438.60,128.12 L439.10,127.87 L439.60,127.63 L440.10,127.38 L440.60,127.13 L441.10,126.88 L441.60,126.63 L442.10,126.37 L442.60,126.11 L443.10,125.85 L443.60,125.58 L444.10,125.32 L444.60,125.05 L445.10,124.78 L445.60,124.51 L446.10,124.24 L446.60,123.97 L447.10,123.70 L447.60,123.42 L448.10,123.15 L448.60,122.87 L449.10,122.59 L449.60,122.32 L450.10,122.04 L450.60,121.77 L451.10,121.49 L451.60,121.22 L452.10,120.94 L452.60,120.67 L453.10,120.40 L453.60,120.13 L454.10,119.86 L454.60,119.60 L455.10,119.34 L455.60,119.08 L456.10,118.82 L456.60,118.56 L457.10,118.31 L457.60,118.06 L458.10,117.81 L458.60,117.57 L459.10,117.32 L459.60,117.08 L460.10,116.84 L460.60,116.60 L461.10,116.36 L461.60,116.13 L462.10,115.89 L462.60,115.66 L463.10,115.43 L463.60,115.20 L464.10,114.97 L464.60,114.75 L465.10,114.52 L465.60,114.29 L466.10,114.06 L466.60,113.84 L467.10,113.61 L467.60,113.38 L468.10,113.15 L468.60,112.92 L469.10,112.68 L469.60,112.45 L470.10,112.21 L470.60,111.97 L471.10,111.73 L471.60,111.49 L472.10,111.25 L472.60,111.00 L473.10,110.76 L473.60,110.52 L474.10,110.28 L474.60,110.04 L475.10,109.80 L475.60,109.56 L476.10,109.33 L476.60,109.09 L477.10,108.86 L477.60,108.63 L478.10,108.40 L478.60,108.17 L479.10,107.94 L479.60,107.71 L480.10,107.49 L480.60,107.26 L481.10,107.03 L481.60,106.81 L482.10,106.58 L482.60,106.36 L483.10,106.13 L483.60,105.91 L484.10,105.69 L484.60,105.46 L485.10,105.24 L485.60,105.02 L486.10,104.80 L486.60,104.57 L487.10,104.35 L487.60,104.13 L488.10,103.92 L488.60,103.70 L489.10,103.48 L489.60,103.27 L490.10,103.06 L490.60,102.85 L491.10,102.64 L491.60,102.43 L492.10,102.23 L492.60,102.03 L493.10,101.83 L493.60,101.63 L494.10,101.44 L494.60,101.24 L495.10,101.06 L495.60,100.87 L496.10,100.69 L496.60,100.51 L497.10,100.33 L497.60,100.16 L498.10,99.99 L498.60,99.83 L499.10,99.67 L499.60,99.51 L500.10,99.36 L500.60,99.20 L501.10,99.06 L501.60,98.91 L502.10,98.77 L502.60,98.63 L503.10,98.49 L503.60,98.36 L504.10,98.23 L504.60,98.11 L505.10,97.98 L505.60,97.87 L506.10,97.75 L506.60,97.64 L507.10,97.53 L507.60,97.42 L508.10,97.32 L508.60,97.21 L509.10,97.11 L509.60,97.01 L510.10,96.92 L510.60,96.83 L511.10,96.73 L511.60,96.65 L512.10,96.56 L512.60,96.48 L513.10,96.40 L513.60,96.32 L514.10,96.24 L514.60,96.17 L515.10,96.10 L515.60,96.03 L516.10,95.97 L516.60,95.90 L517.10,95.84 L517.60,95.78 L518.10,95.72 L518.60,95.66 L519.10,95.60 L519.60,95.54 L520.10,95.49 L520.60,95.43 L521.10,95.38 L521.60,95.33 L522.10,95.28 L522.60,95.23 L523.10,95.18 L523.60,95.14 L524.10,95.09 L524.60,95.04 L525.10,95.00 L525.60,94.96 L526.10,94.92 L526.60,94.88 L527.10,94.84 L527.60,94.80 L528.10,94.76 L528.60,94.72 L529.10,94.69 L529.60,94.65 L530.10,94.62 L530.60,94.59 L531.10,94.56 L531.60,94.53 L532.10,94.51 L532.60,94.48 L533.10,94.46 L533.60,94.44 L534.10,94.42 L534.60,94.40 L535.10,94.38 L535.60,94.36 L536.10,94.35 L536.60,94.33 L537.10,94.32 L537.60,94.30 L538.10,94.29 L538.60,94.28 L539.10,94.27 L539.60,94.27 L540.10,94.26 L540.60,94.25 L541.10,94.24 L541.60,94.24 L542.10,94.23 L542.60,94.22 L543.10,94.22 L543.60,94.21 L544.10,94.21 L544.60,94.20" fill="none" stroke="#4796cd" stroke-width="1.05" stroke-linejoin="round"/>
<text x="291" y="170.5" text-anchor="middle">Position in m</text>
<text transform="translate(11.1,99.2) rotate(-90)" text-anchor="middle" font-size="10.2">Velocity in m/s</text>
<line x1="36.75" y1="269.4" x2="36.75" y2="184.4" stroke="#858585" stroke-width="1.1"/>
<path d="M36.75,181.20000000000002 L34.75,185.3 L38.75,185.3 Z" fill="#000"/>
<line x1="36.2" y1="269.4" x2="542" y2="269.4" stroke="#858585" stroke-width="1.1"/>
<path d="M545.0,269.4 L541.4,267.4 L541.4,271.4 Z" fill="#000"/>
<line x1="33.8" y1="193.9" x2="40" y2="193.9" stroke="#bbb" stroke-width="0.5"/>
<text x="30.4" y="197.30" text-anchor="end">25</text>
<line x1="33.8" y1="214.87" x2="40" y2="214.87" stroke="#bbb" stroke-width="0.5"/>
<text x="30.4" y="218.27" text-anchor="end">20</text>
<line x1="33.8" y1="235.83" x2="40" y2="235.83" stroke="#bbb" stroke-width="0.5"/>
<text x="30.4" y="239.23" text-anchor="end">15</text>
<line x1="33.8" y1="256.8" x2="40" y2="256.8" stroke="#bbb" stroke-width="0.5"/>
<text x="30.4" y="260.20" text-anchor="end">10</text>
<line x1="36.60" y1="266.4" x2="36.60" y2="272.0" stroke="#bbb" stroke-width="0.5"/>
<text x="36.60" y="282.50" text-anchor="middle">0</text>
<line x1="94.35" y1="266.4" x2="94.35" y2="272.0" stroke="#bbb" stroke-width="0.5"/>
<text x="94.35" y="282.50" text-anchor="middle">5</text>
<line x1="152.10" y1="266.4" x2="152.10" y2="272.0" stroke="#bbb" stroke-width="0.5"/>
<text x="152.10" y="282.50" text-anchor="middle">10</text>
<line x1="209.85" y1="266.4" x2="209.85" y2="272.0" stroke="#bbb" stroke-width="0.5"/>
<text x="209.85" y="282.50" text-anchor="middle">15</text>
<line x1="267.60" y1="266.4" x2="267.60" y2="272.0" stroke="#bbb" stroke-width="0.5"/>
<text x="267.60" y="282.50" text-anchor="middle">20</text>
<line x1="325.35" y1="266.4" x2="325.35" y2="272.0" stroke="#bbb" stroke-width="0.5"/>
<text x="325.35" y="282.50" text-anchor="middle">25</text>
<line x1="383.10" y1="266.4" x2="383.10" y2="272.0" stroke="#bbb" stroke-width="0.5"/>
<text x="383.10" y="282.50" text-anchor="middle">30</text>
<line x1="440.85" y1="266.4" x2="440.85" y2="272.0" stroke="#bbb" stroke-width="0.5"/>
<text x="440.85" y="282.50" text-anchor="middle">35</text>
<line x1="498.60" y1="266.4" x2="498.60" y2="272.0" stroke="#bbb" stroke-width="0.5"/>
<text x="498.60" y="282.50" text-anchor="middle">40</text>
<line x1="120" y1="206.3" x2="162" y2="206.3" stroke="#555" stroke-width="0.9"/>
<path d="M117.9,206.3 L121.7,204.5 L121.7,208.1 Z" fill="#000"/>
<path d="M164.1,206.3 L160.3,204.5 L160.3,208.1 Z" fill="#000"/>
<path d="M36.60,186.80 L132.50,186.80 L135.50,190.10 L137.00,191.60 L142.10,195.60 L148.00,201.20 L153.80,206.30 L159.00,211.50 L164.00,217.30 L166.50,219.30 L169.80,220.40 L182.00,220.40 L185.20,221.30 L187.40,222.80 L192.30,225.20 L198.20,227.10 L202.60,224.40 L205.50,221.50 L207.00,220.40 L261.50,220.40 L263.50,222.80 L265.70,225.00 L270.80,228.60 L276.70,233.20 L284.00,236.80 L290.60,239.30 L296.80,244.10 L301.70,250.30 L306.10,256.50 L309.70,262.00 L310.60,263.30 L314.20,259.50 L317.10,258.40 L320.80,259.50 L323.00,261.70 L325.20,263.30 L331.10,261.70 L335.00,261.40 L342.30,258.10 L349.70,254.80 L357.00,251.90 L364.40,247.60 L370.00,244.50 L377.20,242.00 L384.50,239.10 L391.20,234.90 L397.00,230.10 L402.90,225.00 L408.80,220.90 L410.50,220.40 L545.00,220.40" fill="none" stroke="#c42b4c" stroke-width="1.05" stroke-dasharray="3.6 4.1" stroke-dashoffset="0.8" stroke-linejoin="round"/>
<path d="M36.60,186.80 L136.20,186.80 L138.40,187.90 L144.30,191.60 L150.20,195.70 L156.70,200.40 L161.90,204.80 L168.50,210.50 L173.50,215.40 L178.60,219.80 L180.60,220.40 L198.20,220.40 L202.60,223.70 L207.00,227.40 L210.00,228.80 L213.60,225.90 L217.30,222.20 L219.50,220.40 L284.30,220.40 L288.70,224.00 L296.10,228.40 L303.40,232.00 L309.10,234.50 L316.40,237.00 L323.80,238.50 L329.60,241.10 L336.20,247.30 L340.90,252.60 L345.30,259.20 L347.50,263.80 L350.40,261.00 L355.50,256.60 L358.50,257.40 L360.70,260.30 L363.00,264.40 L365.10,264.40 L369.50,262.50 L372.40,261.80 L379.40,259.30 L385.30,256.90 L392.60,253.80 L399.20,251.40 L406.60,247.50 L413.20,245.00 L421.40,242.90 L428.70,240.90 L434.80,237.80 L441.40,234.20 L448.00,229.70 L453.90,225.70 L460.60,221.20 L462.00,220.40 L545.00,220.40" fill="none" stroke="#2f70c0" stroke-width="1.05" stroke-dasharray="3.6 4.1" stroke-dashoffset="0.8" stroke-linejoin="round"/>
<path d="M36.60,186.80 L37.10,186.80 L37.60,186.80 L38.10,186.80 L38.60,186.80 L39.10,186.80 L39.60,186.80 L40.10,186.80 L40.60,186.80 L41.10,186.80 L41.60,186.80 L42.10,186.80 L42.60,186.80 L43.10,186.80 L43.60,186.80 L44.10,186.80 L44.60,186.80 L45.10,186.80 L45.60,186.80 L46.10,186.80 L46.60,186.80 L47.10,186.80 L47.60,186.80 L48.10,186.80 L48.60,186.80 L49.10,186.80 L49.60,186.80 L50.10,186.80 L50.60,186.80 L51.10,186.80 L51.60,186.80 L52.10,186.80 L52.60,186.80 L53.10,186.80 L53.60,186.80 L54.10,186.80 L54.60,186.80 L55.10,186.80 L55.60,186.80 L56.10,186.80 L56.60,186.80 L57.10,186.80 L57.60,186.80 L58.10,186.80 L58.60,186.80 L59.10,186.80 L59.60,186.80 L60.10,186.80 L60.60,186.80 L61.10,186.80 L61.60,186.80 L62.10,186.80 L62.60,186.80 L63.10,186.80 L63.60,186.80 L64.10,186.80 L64.60,186.80 L65.10,186.80 L65.60,186.80 L66.10,186.80 L66.60,186.80 L67.10,186.80 L67.60,186.80 L68.10,186.80 L68.60,186.80 L69.10,186.80 L69.60,186.80 L70.10,186.80 L70.60,186.80 L71.10,186.80 L71.60,186.80 L72.10,186.80 L72.60,186.80 L73.10,186.80 L73.60,186.80 L74.10,186.80 L74.60,186.80 L75.10,186.80 L75.60,186.80 L76.10,186.80 L76.60,186.80 L77.10,186.80 L77.60,186.80 L78.10,186.80 L78.60,186.80 L79.10,186.80 L79.60,186.80 L80.10,186.80 L80.60,186.80 L81.10,186.80 L81.60,186.80 L82.10,186.80 L82.60,186.80 L83.10,186.80 L83.60,186.80 L84.10,186.80 L84.60,186.80 L85.10,186.80 L85.60,186.80 L86.10,186.80 L86.60,186.80 L87.10,186.80 L87.60,186.80 L88.10,186.80 L88.60,186.80 L89.10,186.80 L89.60,186.79 L90.10,186.79 L90.60,186.79 L91.10,186.79 L91.60,186.78 L92.10,186.78 L92.60,186.78 L93.10,186.78 L93.60,186.77 L94.10,186.77 L94.60,186.77 L95.10,186.77 L95.60,186.78 L96.10,186.78 L96.60,186.79 L97.10,186.80 L97.60,186.81 L98.10,186.83 L98.60,186.85 L99.10,186.88 L99.60,186.92 L100.10,186.96 L100.60,187.01 L101.10,187.06 L101.60,187.12 L102.10,187.19 L102.60,187.26 L103.10,187.34 L103.60,187.42 L104.10,187.51 L104.60,187.61 L105.10,187.71 L105.60,187.82 L106.10,187.93 L106.60,188.05 L107.10,188.17 L107.60,188.29 L108.10,188.42 L108.60,188.55 L109.10,188.68 L109.60,188.81 L110.10,188.95 L110.60,189.08 L111.10,189.22 L111.60,189.36 L112.10,189.50 L112.60,189.64 L113.10,189.78 L113.60,189.92 L114.10,190.06 L114.60,190.20 L115.10,190.35 L115.60,190.50 L116.10,190.65 L116.60,190.81 L117.10,190.97 L117.60,191.14 L118.10,191.31 L118.60,191.49 L119.10,191.67 L119.60,191.87 L120.10,192.07 L120.60,192.28 L121.10,192.50 L121.60,192.73 L122.10,192.96 L122.60,193.20 L123.10,193.44 L123.60,193.70 L124.10,193.95 L124.60,194.22 L125.10,194.49 L125.60,194.77 L126.10,195.06 L126.60,195.35 L127.10,195.66 L127.60,195.97 L128.10,196.29 L128.60,196.61 L129.10,196.95 L129.60,197.29 L130.10,197.63 L130.60,197.99 L131.10,198.34 L131.60,198.71 L132.10,199.08 L132.60,199.46 L133.10,199.85 L133.60,200.24 L134.10,200.64 L134.60,201.04 L135.10,201.45 L135.60,201.86 L136.10,202.28 L136.60,202.70 L137.10,203.12 L137.60,203.54 L138.10,203.96 L138.60,204.37 L139.10,204.78 L139.60,205.18 L140.10,205.58 L140.60,205.96 L141.10,206.34 L141.60,206.71 L142.10,207.06 L142.60,207.41 L143.10,207.75 L143.60,208.08 L144.10,208.40 L144.60,208.71 L145.10,209.02 L145.60,209.33 L146.10,209.62 L146.60,209.91 L147.10,210.20 L147.60,210.48 L148.10,210.75 L148.60,211.02 L149.10,211.28 L149.60,211.53 L150.10,211.77 L150.60,212.01 L151.10,212.24 L151.60,212.46 L152.10,212.68 L152.60,212.89 L153.10,213.09 L153.60,213.30 L154.10,213.50 L154.60,213.70 L155.10,213.90 L155.60,214.10 L156.10,214.30 L156.60,214.50 L157.10,214.70 L157.60,214.90 L158.10,215.11 L158.60,215.32 L159.10,215.53 L159.60,215.75 L160.10,215.96 L160.60,216.18 L161.10,216.40 L161.60,216.62 L162.10,216.84 L162.60,217.06 L163.10,217.28 L163.60,217.50 L164.10,217.71 L164.60,217.93 L165.10,218.15 L165.60,218.36 L166.10,218.58 L166.60,218.79 L167.10,219.00 L167.60,219.21 L168.10,219.42 L168.60,219.62 L169.10,219.82 L169.60,220.02 L170.10,220.21 L170.60,220.40 L171.10,220.59 L171.60,220.78 L172.10,220.95 L172.60,221.13 L173.10,221.30 L173.60,221.47 L174.10,221.63 L174.60,221.79 L175.10,221.94 L175.60,222.09 L176.10,222.24 L176.60,222.39 L177.10,222.53 L177.60,222.67 L178.10,222.81 L178.60,222.94 L179.10,223.07 L179.60,223.20 L180.10,223.33 L180.60,223.45 L181.10,223.57 L181.60,223.69 L182.10,223.80 L182.60,223.92 L183.10,224.03 L183.60,224.14 L184.10,224.26 L184.60,224.37 L185.10,224.47 L185.60,224.58 L186.10,224.69 L186.60,224.79 L187.10,224.89 L187.60,224.99 L188.10,225.09 L188.60,225.18 L189.10,225.27 L189.60,225.35 L190.10,225.43 L190.60,225.51 L191.10,225.58 L191.60,225.64 L192.10,225.70 L192.60,225.76 L193.10,225.81 L193.60,225.85 L194.10,225.89 L194.60,225.92 L195.10,225.95 L195.60,225.97 L196.10,225.99 L196.60,226.00 L197.10,226.00 L197.60,226.00 L198.10,225.99 L198.60,225.98 L199.10,225.96 L199.60,225.93 L200.10,225.90 L200.60,225.87 L201.10,225.83 L201.60,225.79 L202.10,225.74 L202.60,225.70 L203.10,225.64 L203.60,225.59 L204.10,225.53 L204.60,225.46 L205.10,225.40 L205.60,225.33 L206.10,225.25 L206.60,225.18 L207.10,225.10 L207.60,225.03 L208.10,224.95 L208.60,224.87 L209.10,224.79 L209.60,224.71 L210.10,224.63 L210.60,224.55 L211.10,224.47 L211.60,224.39 L212.10,224.31 L212.60,224.24 L213.10,224.16 L213.60,224.09 L214.10,224.02 L214.60,223.95 L215.10,223.88 L215.60,223.81 L216.10,223.75 L216.60,223.69 L217.10,223.63 L217.60,223.57 L218.10,223.52 L218.60,223.46 L219.10,223.42 L219.60,223.37 L220.10,223.33 L220.60,223.29 L221.10,223.26 L221.60,223.22 L222.10,223.19 L222.60,223.16 L223.10,223.14 L223.60,223.11 L224.10,223.09 L224.60,223.08 L225.10,223.06 L225.60,223.05 L226.10,223.04 L226.60,223.03 L227.10,223.03 L227.60,223.03 L228.10,223.03 L228.60,223.04 L229.10,223.05 L229.60,223.06 L230.10,223.08 L230.60,223.10 L231.10,223.13 L231.60,223.16 L232.10,223.20 L232.60,223.24 L233.10,223.28 L233.60,223.34 L234.10,223.40 L234.60,223.46 L235.10,223.53 L235.60,223.60 L236.10,223.68 L236.60,223.76 L237.10,223.85 L237.60,223.93 L238.10,224.02 L238.60,224.11 L239.10,224.21 L239.60,224.30 L240.10,224.40 L240.60,224.49 L241.10,224.59 L241.60,224.69 L242.10,224.79 L242.60,224.90 L243.10,225.00 L243.60,225.11 L244.10,225.22 L244.60,225.33 L245.10,225.45 L245.60,225.57 L246.10,225.69 L246.60,225.82 L247.10,225.96 L247.60,226.10 L248.10,226.25 L248.60,226.40 L249.10,226.56 L249.60,226.72 L250.10,226.89 L250.60,227.07 L251.10,227.25 L251.60,227.43 L252.10,227.62 L252.60,227.82 L253.10,228.01 L253.60,228.22 L254.10,228.43 L254.60,228.64 L255.10,228.86 L255.60,229.09 L256.10,229.32 L256.60,229.56 L257.10,229.80 L257.60,230.04 L258.10,230.29 L258.60,230.54 L259.10,230.80 L259.60,231.05 L260.10,231.31 L260.60,231.58 L261.10,231.85 L261.60,232.12 L262.10,232.39 L262.60,232.67 L263.10,232.95 L263.60,233.24 L264.10,233.53 L264.60,233.82 L265.10,234.12 L265.60,234.42 L266.10,234.72 L266.60,235.03 L267.10,235.34 L267.60,235.65 L268.10,235.97 L268.60,236.30 L269.10,236.63 L269.60,236.96 L270.10,237.30 L270.60,237.65 L271.10,237.99 L271.60,238.34 L272.10,238.69 L272.60,239.04 L273.10,239.39 L273.60,239.74 L274.10,240.09 L274.60,240.44 L275.10,240.78 L275.60,241.13 L276.10,241.47 L276.60,241.81 L277.10,242.14 L277.60,242.48 L278.10,242.81 L278.60,243.14 L279.10,243.47 L279.60,243.80 L280.10,244.12 L280.60,244.45 L281.10,244.77 L281.60,245.09 L282.10,245.41 L282.60,245.72 L283.10,246.04 L283.60,246.36 L284.10,246.67 L284.60,246.98 L285.10,247.30 L285.60,247.61 L286.10,247.93 L286.60,248.24 L287.10,248.56 L287.60,248.88 L288.10,249.20 L288.60,249.53 L289.10,249.86 L289.60,250.20 L290.10,250.54 L290.60,250.89 L291.10,251.24 L291.60,251.60 L292.10,251.96 L292.60,252.33 L293.10,252.69 L293.60,253.06 L294.10,253.43 L294.60,253.79 L295.10,254.15 L295.60,254.50 L296.10,254.84 L296.60,255.18 L297.10,255.50 L297.60,255.81 L298.10,256.11 L298.60,256.40 L299.10,256.68 L299.60,256.95 L300.10,257.21 L300.60,257.46 L301.10,257.70 L301.60,257.93 L302.10,258.16 L302.60,258.38 L303.10,258.60 L303.60,258.81 L304.10,259.01 L304.60,259.21 L305.10,259.40 L305.60,259.59 L306.10,259.77 L306.60,259.95 L307.10,260.12 L307.60,260.29 L308.10,260.46 L308.60,260.62 L309.10,260.78 L309.60,260.94 L310.10,261.09 L310.60,261.23 L311.10,261.38 L311.60,261.52 L312.10,261.65 L312.60,261.78 L313.10,261.90 L313.60,262.02 L314.10,262.14 L314.60,262.25 L315.10,262.36 L315.60,262.46 L316.10,262.57 L316.60,262.66 L317.10,262.76 L317.60,262.85 L318.10,262.93 L318.60,263.01 L319.10,263.09 L319.60,263.16 L320.10,263.23 L320.60,263.29 L321.10,263.35 L321.60,263.40 L322.10,263.45 L322.60,263.50 L323.10,263.54 L323.60,263.58 L324.10,263.61 L324.60,263.64 L325.10,263.67 L325.60,263.69 L326.10,263.70 L326.60,263.71 L327.10,263.72 L327.60,263.71 L328.10,263.71 L328.60,263.70 L329.10,263.68 L329.60,263.67 L330.10,263.64 L330.60,263.62 L331.10,263.59 L331.60,263.56 L332.10,263.52 L332.60,263.48 L333.10,263.44 L333.60,263.39 L334.10,263.35 L334.60,263.29 L335.10,263.24 L335.60,263.18 L336.10,263.12 L336.60,263.05 L337.10,262.99 L337.60,262.92 L338.10,262.85 L338.60,262.77 L339.10,262.69 L339.60,262.61 L340.10,262.53 L340.60,262.44 L341.10,262.34 L341.60,262.24 L342.10,262.14 L342.60,262.03 L343.10,261.91 L343.60,261.79 L344.10,261.66 L344.60,261.53 L345.10,261.39 L345.60,261.25 L346.10,261.11 L346.60,260.95 L347.10,260.80 L347.60,260.64 L348.10,260.48 L348.60,260.31 L349.10,260.14 L349.60,259.97 L350.10,259.78 L350.60,259.60 L351.10,259.41 L351.60,259.22 L352.10,259.02 L352.60,258.82 L353.10,258.62 L353.60,258.42 L354.10,258.21 L354.60,258.01 L355.10,257.80 L355.60,257.58 L356.10,257.37 L356.60,257.16 L357.10,256.94 L357.60,256.72 L358.10,256.51 L358.60,256.29 L359.10,256.07 L359.60,255.84 L360.10,255.62 L360.60,255.40 L361.10,255.18 L361.60,254.95 L362.10,254.73 L362.60,254.50 L363.10,254.28 L363.60,254.05 L364.10,253.83 L364.60,253.60 L365.10,253.38 L365.60,253.15 L366.10,252.93 L366.60,252.71 L367.10,252.48 L367.60,252.26 L368.10,252.04 L368.60,251.82 L369.10,251.60 L369.60,251.39 L370.10,251.17 L370.60,250.96 L371.10,250.74 L371.60,250.53 L372.10,250.32 L372.60,250.11 L373.10,249.89 L373.60,249.67 L374.10,249.45 L374.60,249.23 L375.10,249.00 L375.60,248.77 L376.10,248.53 L376.60,248.29 L377.10,248.05 L377.60,247.80 L378.10,247.54 L378.60,247.28 L379.10,247.02 L379.60,246.76 L380.10,246.49 L380.60,246.23 L381.10,245.96 L381.60,245.69 L382.10,245.42 L382.60,245.15 L383.10,244.88 L383.60,244.61 L384.10,244.34 L384.60,244.07 L385.10,243.80 L385.60,243.53 L386.10,243.26 L386.60,242.99 L387.10,242.72 L387.60,242.46 L388.10,242.19 L388.60,241.92 L389.10,241.66 L389.60,241.39 L390.10,241.12 L390.60,240.85 L391.10,240.58 L391.60,240.31 L392.10,240.04 L392.60,239.76 L393.10,239.48 L393.60,239.20 L394.10,238.91 L394.60,238.62 L395.10,238.33 L395.60,238.03 L396.10,237.73 L396.60,237.43 L397.10,237.12 L397.60,236.82 L398.10,236.51 L398.60,236.20 L399.10,235.89 L399.60,235.58 L400.10,235.27 L400.60,234.96 L401.10,234.65 L401.60,234.34 L402.10,234.04 L402.60,233.73 L403.10,233.43 L403.60,233.13 L404.10,232.83 L404.60,232.53 L405.10,232.24 L405.60,231.95 L406.10,231.67 L406.60,231.39 L407.10,231.12 L407.60,230.85 L408.10,230.60 L408.60,230.35 L409.10,230.10 L409.60,229.87 L410.10,229.64 L410.60,229.41 L411.10,229.19 L411.60,228.98 L412.10,228.77 L412.60,228.56 L413.10,228.36 L413.60,228.16 L414.10,227.96 L414.60,227.77 L415.10,227.57 L415.60,227.38 L416.10,227.20 L416.60,227.01 L417.10,226.83 L417.60,226.65 L418.10,226.47 L418.60,226.29 L419.10,226.12 L419.60,225.94 L420.10,225.77 L420.60,225.60 L421.10,225.44 L421.60,225.28 L422.10,225.12 L422.60,224.96 L423.10,224.80 L423.60,224.65 L424.10,224.51 L424.60,224.36 L425.10,224.22 L425.60,224.08 L426.10,223.95 L426.60,223.81 L427.10,223.68 L427.60,223.56 L428.10,223.44 L428.60,223.32 L429.10,223.20 L429.60,223.09 L430.10,222.98 L430.60,222.88 L431.10,222.78 L431.60,222.68 L432.10,222.59 L432.60,222.50 L433.10,222.42 L433.60,222.33 L434.10,222.25 L434.60,222.18 L435.10,222.10 L435.60,222.03 L436.10,221.96 L436.60,221.89 L437.10,221.83 L437.60,221.76 L438.10,221.70 L438.60,221.65 L439.10,221.59 L439.60,221.54 L440.10,221.49 L440.60,221.44 L441.10,221.40 L441.60,221.35 L442.10,221.31 L442.60,221.27 L443.10,221.23 L443.60,221.19 L444.10,221.16 L444.60,221.13 L445.10,221.10 L445.60,221.07 L446.10,221.04 L446.60,221.02 L447.10,220.99 L447.60,220.97 L448.10,220.95 L448.60,220.93 L449.10,220.91 L449.60,220.89 L450.10,220.87 L450.60,220.85 L451.10,220.84 L451.60,220.82 L452.10,220.80 L452.60,220.79 L453.10,220.77 L453.60,220.75 L454.10,220.74 L454.60,220.72 L455.10,220.71 L455.60,220.70 L456.10,220.68 L456.60,220.67 L457.10,220.66 L457.60,220.65 L458.10,220.64 L458.60,220.63 L459.10,220.62 L459.60,220.60 L460.10,220.59 L460.60,220.58 L461.10,220.57 L461.60,220.56 L462.10,220.55 L462.60,220.54 L463.10,220.53 L463.60,220.52 L464.10,220.51 L464.60,220.50 L465.10,220.49 L465.60,220.48 L466.10,220.48 L466.60,220.47 L467.10,220.46 L467.60,220.45 L468.10,220.44 L468.60,220.43 L469.10,220.43 L469.60,220.42 L470.10,220.41 L470.60,220.41 L471.10,220.41 L471.60,220.40 L472.10,220.40 L472.60,220.40 L473.10,220.39 L473.60,220.39 L474.10,220.39 L474.60,220.39 L475.10,220.39 L475.60,220.39 L476.10,220.39 L476.60,220.39 L477.10,220.39 L477.60,220.39 L478.10,220.39 L478.60,220.39 L479.10,220.39 L479.60,220.39 L480.10,220.39 L480.60,220.39 L481.10,220.38 L481.60,220.38 L482.10,220.38 L482.60,220.38 L483.10,220.38 L483.60,220.38 L484.10,220.38 L484.60,220.38 L485.10,220.38 L485.60,220.38 L486.10,220.38 L486.60,220.38 L487.10,220.38 L487.60,220.38 L488.10,220.38 L488.60,220.38 L489.10,220.37 L489.60,220.37 L490.10,220.37 L490.60,220.37 L491.10,220.37 L491.60,220.37 L492.10,220.37 L492.60,220.37 L493.10,220.37 L493.60,220.37 L494.10,220.37 L494.60,220.37 L495.10,220.37 L495.60,220.37 L496.10,220.37 L496.60,220.36 L497.10,220.36 L497.60,220.36 L498.10,220.36 L498.60,220.36 L499.10,220.36 L499.60,220.36 L500.10,220.36 L500.60,220.36 L501.10,220.36 L501.60,220.36 L502.10,220.36 L502.60,220.36 L503.10,220.36 L503.60,220.36 L504.10,220.35 L504.60,220.35 L505.10,220.35 L505.60,220.35 L506.10,220.35 L506.60,220.35 L507.10,220.35 L507.60,220.35 L508.10,220.35 L508.60,220.35 L509.10,220.35 L509.60,220.35 L510.10,220.35 L510.60,220.35 L511.10,220.35 L511.60,220.34 L512.10,220.34 L512.60,220.34 L513.10,220.34 L513.60,220.34 L514.10,220.34 L514.60,220.34 L515.10,220.34 L515.60,220.34 L516.10,220.34 L516.60,220.34 L517.10,220.34 L517.60,220.34 L518.10,220.34 L518.60,220.34 L519.10,220.33 L519.60,220.33 L520.10,220.33 L520.60,220.33 L521.10,220.33 L521.60,220.33 L522.10,220.33 L522.60,220.33 L523.10,220.33 L523.60,220.33 L524.10,220.33 L524.60,220.33 L525.10,220.33 L525.60,220.33 L526.10,220.33 L526.60,220.32 L527.10,220.32 L527.60,220.32 L528.10,220.32 L528.60,220.32 L529.10,220.32 L529.60,220.32 L530.10,220.32 L530.60,220.32 L531.10,220.32 L531.60,220.32 L532.10,220.32 L532.60,220.32 L533.10,220.32 L533.60,220.32 L534.10,220.31 L534.60,220.31 L535.10,220.31 L535.60,220.31 L536.10,220.31 L536.60,220.31 L537.10,220.31 L537.60,220.31 L538.10,220.31 L538.60,220.31 L539.10,220.31 L539.60,220.31 L540.10,220.31 L540.60,220.31 L541.10,220.31 L541.60,220.30 L542.10,220.30 L542.60,220.30 L543.10,220.30 L543.60,220.30 L544.10,220.30 L544.60,220.30" fill="none" stroke="#dd6a51" stroke-width="1.05" stroke-linejoin="round"/>
<path d="M36.60,186.80 L37.10,186.80 L37.60,186.80 L38.10,186.80 L38.60,186.80 L39.10,186.80 L39.60,186.80 L40.10,186.80 L40.60,186.80 L41.10,186.80 L41.60,186.80 L42.10,186.80 L42.60,186.80 L43.10,186.80 L43.60,186.80 L44.10,186.80 L44.60,186.80 L45.10,186.80 L45.60,186.80 L46.10,186.80 L46.60,186.80 L47.10,186.80 L47.60,186.80 L48.10,186.80 L48.60,186.80 L49.10,186.80 L49.60,186.80 L50.10,186.80 L50.60,186.80 L51.10,186.80 L51.60,186.80 L52.10,186.80 L52.60,186.80 L53.10,186.80 L53.60,186.80 L54.10,186.80 L54.60,186.80 L55.10,186.80 L55.60,186.80 L56.10,186.80 L56.60,186.80 L57.10,186.80 L57.60,186.80 L58.10,186.80 L58.60,186.80 L59.10,186.80 L59.60,186.80 L60.10,186.80 L60.60,186.79 L61.10,186.79 L61.60,186.79 L62.10,186.79 L62.60,186.79 L63.10,186.78 L63.60,186.78 L64.10,186.78 L64.60,186.78 L65.10,186.78 L65.60,186.78 L66.10,186.78 L66.60,186.78 L67.10,186.78 L67.60,186.79 L68.10,186.80 L68.60,186.81 L69.10,186.82 L69.60,186.84 L70.10,186.87 L70.60,186.89 L71.10,186.93 L71.60,186.97 L72.10,187.01 L72.60,187.06 L73.10,187.12 L73.60,187.18 L74.10,187.25 L74.60,187.32 L75.10,187.40 L75.60,187.49 L76.10,187.58 L76.60,187.67 L77.10,187.78 L77.60,187.88 L78.10,187.99 L78.60,188.10 L79.10,188.22 L79.60,188.34 L80.10,188.46 L80.60,188.58 L81.10,188.71 L81.60,188.84 L82.10,188.98 L82.60,189.11 L83.10,189.25 L83.60,189.39 L84.10,189.54 L84.60,189.69 L85.10,189.84 L85.60,189.99 L86.10,190.15 L86.60,190.31 L87.10,190.47 L87.60,190.64 L88.10,190.81 L88.60,190.99 L89.10,191.17 L89.60,191.36 L90.10,191.55 L90.60,191.75 L91.10,191.95 L91.60,192.16 L92.10,192.37 L92.60,192.59 L93.10,192.81 L93.60,193.03 L94.10,193.26 L94.60,193.50 L95.10,193.73 L95.60,193.98 L96.10,194.22 L96.60,194.47 L97.10,194.72 L97.60,194.98 L98.10,195.24 L98.60,195.51 L99.10,195.77 L99.60,196.04 L100.10,196.31 L100.60,196.58 L101.10,196.86 L101.60,197.13 L102.10,197.40 L102.60,197.68 L103.10,197.95 L103.60,198.22 L104.10,198.49 L104.60,198.76 L105.10,199.02 L105.60,199.29 L106.10,199.55 L106.60,199.81 L107.10,200.08 L107.60,200.34 L108.10,200.60 L108.60,200.86 L109.10,201.12 L109.60,201.38 L110.10,201.64 L110.60,201.90 L111.10,202.17 L111.60,202.43 L112.10,202.70 L112.60,202.97 L113.10,203.24 L113.60,203.51 L114.10,203.79 L114.60,204.06 L115.10,204.34 L115.60,204.62 L116.10,204.90 L116.60,205.18 L117.10,205.46 L117.60,205.75 L118.10,206.04 L118.60,206.32 L119.10,206.61 L119.60,206.90 L120.10,207.19 L120.60,207.49 L121.10,207.78 L121.60,208.08 L122.10,208.37 L122.60,208.67 L123.10,208.96 L123.60,209.26 L124.10,209.55 L124.60,209.85 L125.10,210.14 L125.60,210.43 L126.10,210.72 L126.60,211.01 L127.10,211.30 L127.60,211.58 L128.10,211.87 L128.60,212.15 L129.10,212.43 L129.60,212.71 L130.10,212.98 L130.60,213.26 L131.10,213.53 L131.60,213.80 L132.10,214.06 L132.60,214.33 L133.10,214.59 L133.60,214.84 L134.10,215.09 L134.60,215.34 L135.10,215.59 L135.60,215.83 L136.10,216.06 L136.60,216.29 L137.10,216.52 L137.60,216.74 L138.10,216.96 L138.60,217.18 L139.10,217.38 L139.60,217.59 L140.10,217.78 L140.60,217.97 L141.10,218.16 L141.60,218.33 L142.10,218.50 L142.60,218.67 L143.10,218.82 L143.60,218.97 L144.10,219.12 L144.60,219.26 L145.10,219.39 L145.60,219.52 L146.10,219.65 L146.60,219.78 L147.10,219.90 L147.60,220.02 L148.10,220.14 L148.60,220.26 L149.10,220.38 L149.60,220.49 L150.10,220.60 L150.60,220.71 L151.10,220.82 L151.60,220.94 L152.10,221.05 L152.60,221.16 L153.10,221.27 L153.60,221.38 L154.10,221.49 L154.60,221.60 L155.10,221.71 L155.60,221.82 L156.10,221.93 L156.60,222.04 L157.10,222.15 L157.60,222.26 L158.10,222.37 L158.60,222.48 L159.10,222.59 L159.60,222.70 L160.10,222.80 L160.60,222.91 L161.10,223.02 L161.60,223.13 L162.10,223.24 L162.60,223.35 L163.10,223.46 L163.60,223.57 L164.10,223.68 L164.60,223.79 L165.10,223.90 L165.60,224.01 L166.10,224.12 L166.60,224.22 L167.10,224.33 L167.60,224.44 L168.10,224.55 L168.60,224.66 L169.10,224.77 L169.60,224.87 L170.10,224.98 L170.60,225.08 L171.10,225.19 L171.60,225.29 L172.10,225.39 L172.60,225.49 L173.10,225.58 L173.60,225.68 L174.10,225.77 L174.60,225.87 L175.10,225.96 L175.60,226.04 L176.10,226.13 L176.60,226.22 L177.10,226.30 L177.60,226.38 L178.10,226.46 L178.60,226.54 L179.10,226.62 L179.60,226.69 L180.10,226.76 L180.60,226.83 L181.10,226.90 L181.60,226.97 L182.10,227.04 L182.60,227.10 L183.10,227.17 L183.60,227.23 L184.10,227.29 L184.60,227.35 L185.10,227.41 L185.60,227.47 L186.10,227.54 L186.60,227.59 L187.10,227.65 L187.60,227.71 L188.10,227.77 L188.60,227.83 L189.10,227.88 L189.60,227.94 L190.10,227.99 L190.60,228.04 L191.10,228.10 L191.60,228.14 L192.10,228.19 L192.60,228.24 L193.10,228.29 L193.60,228.33 L194.10,228.37 L194.60,228.41 L195.10,228.45 L195.60,228.49 L196.10,228.53 L196.60,228.56 L197.10,228.59 L197.60,228.62 L198.10,228.65 L198.60,228.68 L199.10,228.70 L199.60,228.73 L200.10,228.75 L200.60,228.77 L201.10,228.79 L201.60,228.81 L202.10,228.83 L202.60,228.84 L203.10,228.86 L203.60,228.87 L204.10,228.89 L204.60,228.90 L205.10,228.91 L205.60,228.92 L206.10,228.93 L206.60,228.94 L207.10,228.95 L207.60,228.95 L208.10,228.96 L208.60,228.97 L209.10,228.97 L209.60,228.98 L210.10,228.98 L210.60,228.99 L211.10,229.00 L211.60,229.00 L212.10,229.01 L212.60,229.01 L213.10,229.02 L213.60,229.03 L214.10,229.03 L214.60,229.04 L215.10,229.05 L215.60,229.06 L216.10,229.06 L216.60,229.07 L217.10,229.08 L217.60,229.10 L218.10,229.11 L218.60,229.12 L219.10,229.14 L219.60,229.15 L220.10,229.17 L220.60,229.18 L221.10,229.20 L221.60,229.22 L222.10,229.24 L222.60,229.26 L223.10,229.28 L223.60,229.30 L224.10,229.33 L224.60,229.35 L225.10,229.37 L225.60,229.39 L226.10,229.42 L226.60,229.44 L227.10,229.47 L227.60,229.49 L228.10,229.52 L228.60,229.55 L229.10,229.58 L229.60,229.61 L230.10,229.65 L230.60,229.69 L231.10,229.72 L231.60,229.76 L232.10,229.81 L232.60,229.85 L233.10,229.89 L233.60,229.94 L234.10,229.99 L234.60,230.04 L235.10,230.08 L235.60,230.14 L236.10,230.19 L236.60,230.24 L237.10,230.30 L237.60,230.35 L238.10,230.41 L238.60,230.47 L239.10,230.54 L239.60,230.60 L240.10,230.68 L240.60,230.75 L241.10,230.83 L241.60,230.91 L242.10,230.99 L242.60,231.08 L243.10,231.17 L243.60,231.26 L244.10,231.36 L244.60,231.46 L245.10,231.57 L245.60,231.67 L246.10,231.78 L246.60,231.90 L247.10,232.01 L247.60,232.14 L248.10,232.26 L248.60,232.39 L249.10,232.53 L249.60,232.66 L250.10,232.81 L250.60,232.95 L251.10,233.10 L251.60,233.25 L252.10,233.40 L252.60,233.56 L253.10,233.73 L253.60,233.89 L254.10,234.06 L254.60,234.24 L255.10,234.41 L255.60,234.60 L256.10,234.79 L256.60,234.98 L257.10,235.17 L257.60,235.37 L258.10,235.57 L258.60,235.77 L259.10,235.98 L259.60,236.19 L260.10,236.40 L260.60,236.62 L261.10,236.84 L261.60,237.06 L262.10,237.29 L262.60,237.51 L263.10,237.74 L263.60,237.98 L264.10,238.21 L264.60,238.45 L265.10,238.69 L265.60,238.94 L266.10,239.18 L266.60,239.43 L267.10,239.68 L267.60,239.93 L268.10,240.19 L268.60,240.44 L269.10,240.69 L269.60,240.95 L270.10,241.20 L270.60,241.45 L271.10,241.71 L271.60,241.96 L272.10,242.21 L272.60,242.46 L273.10,242.71 L273.60,242.96 L274.10,243.21 L274.60,243.47 L275.10,243.72 L275.60,243.97 L276.10,244.23 L276.60,244.48 L277.10,244.74 L277.60,245.00 L278.10,245.27 L278.60,245.53 L279.10,245.80 L279.60,246.07 L280.10,246.34 L280.60,246.62 L281.10,246.89 L281.60,247.17 L282.10,247.45 L282.60,247.74 L283.10,248.02 L283.60,248.31 L284.10,248.60 L284.60,248.89 L285.10,249.18 L285.60,249.47 L286.10,249.77 L286.60,250.07 L287.10,250.37 L287.60,250.66 L288.10,250.96 L288.60,251.26 L289.10,251.56 L289.60,251.85 L290.10,252.15 L290.60,252.44 L291.10,252.72 L291.60,253.01 L292.10,253.29 L292.60,253.56 L293.10,253.83 L293.60,254.10 L294.10,254.36 L294.60,254.61 L295.10,254.87 L295.60,255.11 L296.10,255.35 L296.60,255.58 L297.10,255.81 L297.60,256.04 L298.10,256.25 L298.60,256.46 L299.10,256.67 L299.60,256.87 L300.10,257.06 L300.60,257.25 L301.10,257.44 L301.60,257.62 L302.10,257.79 L302.60,257.97 L303.10,258.14 L303.60,258.30 L304.10,258.47 L304.60,258.62 L305.10,258.78 L305.60,258.93 L306.10,259.08 L306.60,259.22 L307.10,259.36 L307.60,259.50 L308.10,259.63 L308.60,259.77 L309.10,259.90 L309.60,260.02 L310.10,260.15 L310.60,260.28 L311.10,260.40 L311.60,260.52 L312.10,260.64 L312.60,260.76 L313.10,260.88 L313.60,261.00 L314.10,261.11 L314.60,261.23 L315.10,261.34 L315.60,261.46 L316.10,261.57 L316.60,261.68 L317.10,261.79 L317.60,261.91 L318.10,262.02 L318.60,262.13 L319.10,262.24 L319.60,262.34 L320.10,262.45 L320.60,262.56 L321.10,262.66 L321.60,262.77 L322.10,262.87 L322.60,262.98 L323.10,263.08 L323.60,263.18 L324.10,263.27 L324.60,263.37 L325.10,263.46 L325.60,263.55 L326.10,263.63 L326.60,263.72 L327.10,263.79 L327.60,263.87 L328.10,263.94 L328.60,264.01 L329.10,264.07 L329.60,264.13 L330.10,264.19 L330.60,264.25 L331.10,264.30 L331.60,264.35 L332.10,264.40 L332.60,264.44 L333.10,264.48 L333.60,264.52 L334.10,264.56 L334.60,264.59 L335.10,264.62 L335.60,264.65 L336.10,264.68 L336.60,264.70 L337.10,264.72 L337.60,264.75 L338.10,264.77 L338.60,264.79 L339.10,264.80 L339.60,264.82 L340.10,264.84 L340.60,264.86 L341.10,264.87 L341.60,264.89 L342.10,264.90 L342.60,264.92 L343.10,264.93 L343.60,264.94 L344.10,264.95 L344.60,264.96 L345.10,264.97 L345.60,264.98 L346.10,264.99 L346.60,264.99 L347.10,265.00 L347.60,265.00 L348.10,265.00 L348.60,265.00 L349.10,265.00 L349.60,265.01 L350.10,265.01 L350.60,265.01 L351.10,265.01 L351.60,265.01 L352.10,265.00 L352.60,265.00 L353.10,265.00 L353.60,265.00 L354.10,265.00 L354.60,265.00 L355.10,265.00 L355.60,265.00 L356.10,265.00 L356.60,265.00 L357.10,265.00 L357.60,265.00 L358.10,265.00 L358.60,265.00 L359.10,265.00 L359.60,265.00 L360.10,265.00 L360.60,265.00 L361.10,265.00 L361.60,265.00 L362.10,265.00 L362.60,265.00 L363.10,265.00 L363.60,265.00 L364.10,265.00 L364.60,265.00 L365.10,265.00 L365.60,265.00 L366.10,265.00 L366.60,265.00 L367.10,265.00 L367.60,265.00 L368.10,265.00 L368.60,265.00 L369.10,265.00 L369.60,265.00 L370.10,265.00 L370.60,265.01 L371.10,265.01 L371.60,265.01 L372.10,265.01 L372.60,265.01 L373.10,265.01 L373.60,265.01 L374.10,265.01 L374.60,265.01 L375.10,265.01 L375.60,265.01 L376.10,265.01 L376.60,265.01 L377.10,265.00 L377.60,265.00 L378.10,264.99 L378.60,264.98 L379.10,264.96 L379.60,264.95 L380.10,264.93 L380.60,264.90 L381.10,264.88 L381.60,264.85 L382.10,264.81 L382.60,264.78 L383.10,264.74 L383.60,264.70 L384.10,264.66 L384.60,264.62 L385.10,264.57 L385.60,264.53 L386.10,264.48 L386.60,264.44 L387.10,264.39 L387.60,264.34 L388.10,264.29 L388.60,264.24 L389.10,264.19 L389.60,264.14 L390.10,264.09 L390.60,264.03 L391.10,263.98 L391.60,263.92 L392.10,263.87 L392.60,263.81 L393.10,263.75 L393.60,263.69 L394.10,263.62 L394.60,263.56 L395.10,263.49 L395.60,263.43 L396.10,263.36 L396.60,263.28 L397.10,263.21 L397.60,263.14 L398.10,263.06 L398.60,262.98 L399.10,262.89 L399.60,262.81 L400.10,262.72 L400.60,262.63 L401.10,262.54 L401.60,262.44 L402.10,262.34 L402.60,262.25 L403.10,262.15 L403.60,262.05 L404.10,261.95 L404.60,261.85 L405.10,261.75 L405.60,261.65 L406.10,261.56 L406.60,261.46 L407.10,261.36 L407.60,261.27 L408.10,261.18 L408.60,261.08 L409.10,260.99 L409.60,260.90 L410.10,260.81 L410.60,260.71 L411.10,260.62 L411.60,260.52 L412.10,260.43 L412.60,260.33 L413.10,260.23 L413.60,260.12 L414.10,260.01 L414.60,259.90 L415.10,259.78 L415.60,259.66 L416.10,259.53 L416.60,259.40 L417.10,259.26 L417.60,259.12 L418.10,258.98 L418.60,258.83 L419.10,258.69 L419.60,258.53 L420.10,258.38 L420.60,258.22 L421.10,258.06 L421.60,257.90 L422.10,257.74 L422.60,257.58 L423.10,257.41 L423.60,257.24 L424.10,257.07 L424.60,256.90 L425.10,256.72 L425.60,256.55 L426.10,256.37 L426.60,256.20 L427.10,256.02 L427.60,255.85 L428.10,255.67 L428.60,255.49 L429.10,255.31 L429.60,255.13 L430.10,254.96 L430.60,254.78 L431.10,254.60 L431.60,254.42 L432.10,254.24 L432.60,254.07 L433.10,253.89 L433.60,253.71 L434.10,253.53 L434.60,253.36 L435.10,253.18 L435.60,253.01 L436.10,252.83 L436.60,252.66 L437.10,252.48 L437.60,252.31 L438.10,252.14 L438.60,251.97 L439.10,251.79 L439.60,251.62 L440.10,251.45 L440.60,251.28 L441.10,251.11 L441.60,250.94 L442.10,250.77 L442.60,250.60 L443.10,250.43 L443.60,250.26 L444.10,250.09 L444.60,249.92 L445.10,249.74 L445.60,249.57 L446.10,249.40 L446.60,249.22 L447.10,249.05 L447.60,248.87 L448.10,248.70 L448.60,248.52 L449.10,248.34 L449.60,248.16 L450.10,247.98 L450.60,247.80 L451.10,247.62 L451.60,247.44 L452.10,247.26 L452.60,247.07 L453.10,246.88 L453.60,246.69 L454.10,246.50 L454.60,246.30 L455.10,246.10 L455.60,245.90 L456.10,245.69 L456.60,245.48 L457.10,245.27 L457.60,245.06 L458.10,244.85 L458.60,244.63 L459.10,244.42 L459.60,244.20 L460.10,243.98 L460.60,243.76 L461.10,243.54 L461.60,243.32 L462.10,243.10 L462.60,242.88 L463.10,242.66 L463.60,242.43 L464.10,242.21 L464.60,241.99 L465.10,241.77 L465.60,241.54 L466.10,241.32 L466.60,241.09 L467.10,240.86 L467.60,240.63 L468.10,240.40 L468.60,240.17 L469.10,239.94 L469.60,239.70 L470.10,239.46 L470.60,239.22 L471.10,238.97 L471.60,238.73 L472.10,238.48 L472.60,238.23 L473.10,237.98 L473.60,237.73 L474.10,237.47 L474.60,237.22 L475.10,236.96 L475.60,236.71 L476.10,236.45 L476.60,236.20 L477.10,235.94 L477.60,235.69 L478.10,235.43 L478.60,235.18 L479.10,234.93 L479.60,234.68 L480.10,234.43 L480.60,234.18 L481.10,233.94 L481.60,233.70 L482.10,233.46 L482.60,233.23 L483.10,233.01 L483.60,232.78 L484.10,232.57 L484.60,232.36 L485.10,232.15 L485.60,231.95 L486.10,231.76 L486.60,231.57 L487.10,231.38 L487.60,231.20 L488.10,231.01 L488.60,230.83 L489.10,230.65 L489.60,230.47 L490.10,230.28 L490.60,230.10 L491.10,229.91 L491.60,229.72 L492.10,229.53 L492.60,229.34 L493.10,229.15 L493.60,228.96 L494.10,228.76 L494.60,228.57 L495.10,228.38 L495.60,228.18 L496.10,227.99 L496.60,227.80 L497.10,227.61 L497.60,227.42 L498.10,227.23 L498.60,227.05 L499.10,226.86 L499.60,226.68 L500.10,226.50 L500.60,226.32 L501.10,226.15 L501.60,225.97 L502.10,225.80 L502.60,225.63 L503.10,225.47 L503.60,225.31 L504.10,225.15 L504.60,225.00 L505.10,224.85 L505.60,224.70 L506.10,224.56 L506.60,224.43 L507.10,224.29 L507.60,224.16 L508.10,224.04 L508.60,223.91 L509.10,223.79 L509.60,223.68 L510.10,223.56 L510.60,223.45 L511.10,223.35 L511.60,223.24 L512.10,223.14 L512.60,223.05 L513.10,222.96 L513.60,222.87 L514.10,222.78 L514.60,222.70 L515.10,222.62 L515.60,222.55 L516.10,222.47 L516.60,222.40 L517.10,222.33 L517.60,222.26 L518.10,222.19 L518.60,222.12 L519.10,222.06 L519.60,221.99 L520.10,221.93 L520.60,221.87 L521.10,221.81 L521.60,221.75 L522.10,221.69 L522.60,221.63 L523.10,221.58 L523.60,221.52 L524.10,221.47 L524.60,221.42 L525.10,221.36 L525.60,221.31 L526.10,221.26 L526.60,221.22 L527.10,221.17 L527.60,221.12 L528.10,221.08 L528.60,221.04 L529.10,221.00 L529.60,220.96 L530.10,220.93 L530.60,220.90 L531.10,220.86 L531.60,220.84 L532.10,220.81 L532.60,220.78 L533.10,220.76 L533.60,220.74 L534.10,220.71 L534.60,220.69 L535.10,220.67 L535.60,220.66 L536.10,220.64 L536.60,220.62 L537.10,220.60 L537.60,220.59 L538.10,220.57 L538.60,220.56 L539.10,220.55 L539.60,220.53 L540.10,220.52 L540.60,220.51 L541.10,220.49 L541.60,220.48 L542.10,220.47 L542.60,220.46 L543.10,220.44 L543.60,220.43 L544.10,220.42 L544.60,220.41" fill="none" stroke="#4796cd" stroke-width="1.05" stroke-linejoin="round"/>
<text x="291.3" y="296.5" text-anchor="middle">Time in s</text>
<text transform="translate(11.1,224.8) rotate(-90)" text-anchor="middle">Velocity in <tspan dx="4">m</tspan><tspan dx="1">/</tspan><tspan dx="1">s</tspan></text>
<text x="257" y="82.4">Δ</text>
<text x="263.30" y="82.4" font-style="italic">t</text>
<text x="265.60" y="84.50" font-size="7.5" letter-spacing="0.2">Lim,TJY</text>
<text x="297.70" y="82.4">=</text>
<text x="307.00" y="82.4">4</text>
<text x="313.80" y="82.4">s</text>
<text x="190.8" y="208.4">Δ</text>
<text x="197.10" y="208.4" font-style="italic">t</text>
<text x="199.40" y="210.50" font-size="7.5" letter-spacing="0.2">Lim,TJY</text>
<text x="231.50" y="208.4">=</text>
<text x="240.80" y="208.4">4</text>
<text x="247.60" y="208.4">s</text>
<rect x="153.3" y="3.6" width="274.9" height="46.2" fill="#fff" stroke="#6a6a6a" stroke-width="0.9"/>
<text x="157.7" y="14.8">For</text>
<text x="174.1" y="14.8" font-style="italic">v</text>
<text x="180.8" y="14.8">−</text>
<text x="189" y="14.8" font-style="italic">s</text>
<text x="197.6" y="14.8" textLength="35.6">diagram:</text>
<text x="157.7" y="28.65">For</text>
<text x="174.1" y="28.65" textLength="5.6" lengthAdjust="spacingAndGlyphs">Δ</text>
<text x="180.3" y="28.65" font-style="italic">t</text>
<text x="183.7" y="30.75" font-size="7.5" letter-spacing="0.2">Lim,TJY</text>
<text x="215.3" y="28.65" textLength="6.2" lengthAdjust="spacingAndGlyphs">=</text>
<text x="225.3" y="28.65">1</text>
<text x="232.5" y="28.65">s</text>
<text x="236.6" y="28.65">:</text>
<text x="157.7" y="42.6">For</text>
<text x="174.1" y="42.6" textLength="5.6" lengthAdjust="spacingAndGlyphs">Δ</text>
<text x="180.3" y="42.6" font-style="italic">t</text>
<text x="183.7" y="44.70" font-size="7.5" letter-spacing="0.2">Lim,TJY</text>
<text x="215.3" y="42.6" textLength="6.2" lengthAdjust="spacingAndGlyphs">=</text>
<text x="225.3" y="42.6">4</text>
<text x="232.5" y="42.6">s</text>
<text x="236.6" y="42.6">:</text>
<line x1="250" y1="11.5" x2="269.8" y2="11.5" stroke="#111" stroke-width="1.05" stroke-dasharray="3.9 3.9"/>
<text x="276.8" y="14.8" font-style="italic">v</text>
<text x="281.8" y="16.90" font-size="7.5" letter-spacing="0.2">Lim,Map,<tspan font-style="italic">v̇</tspan></text>
<line x1="250" y1="25.4" x2="269.8" y2="25.4" stroke="#c42b4c" stroke-width="1.05" stroke-dasharray="3.9 3.9"/>
<text x="276.8" y="28.65" font-style="italic">v</text>
<text x="281.8" y="30.75" font-size="7.5" letter-spacing="0.2">Lim,Map,<tspan font-style="italic">v̇</tspan></text>
<line x1="250" y1="39.4" x2="269.8" y2="39.4" stroke="#2f70c0" stroke-width="1.05" stroke-dasharray="3.9 3.9"/>
<text x="276.8" y="42.6" font-style="italic">v</text>
<text x="281.8" y="44.70" font-size="7.5" letter-spacing="0.2">Lim,Map,<tspan font-style="italic">v̇</tspan></text>
<circle cx="329.4" cy="25.4" r="0.6" fill="#f3c9bf"/>
<circle cx="329.4" cy="39.4" r="0.6" fill="#c9def0"/>
<text x="335" y="28.65" font-style="italic">v</text>
<text x="340" y="30.75" font-size="7.5" letter-spacing="0.2">Lim,TJY</text>
<line x1="379.2" y1="25.4" x2="401.2" y2="25.4" stroke="#dd6a51" stroke-width="1.05"/>
<text x="406.5" y="28.65" font-style="italic">v</text>
<text x="411.5" y="30.75" font-size="7.5" letter-spacing="0.2">TJY</text>
<text x="335" y="42.6" font-style="italic">v</text>
<text x="340" y="44.70" font-size="7.5" letter-spacing="0.2">Lim,TJY</text>
<line x1="379.2" y1="39.4" x2="401.2" y2="39.4" stroke="#4796cd" stroke-width="1.05"/>
<text x="406.5" y="42.6" font-style="italic">v</text>
<text x="411.5" y="44.70" font-size="7.5" letter-spacing="0.2">TJY</text>
</svg>
</body></html>
